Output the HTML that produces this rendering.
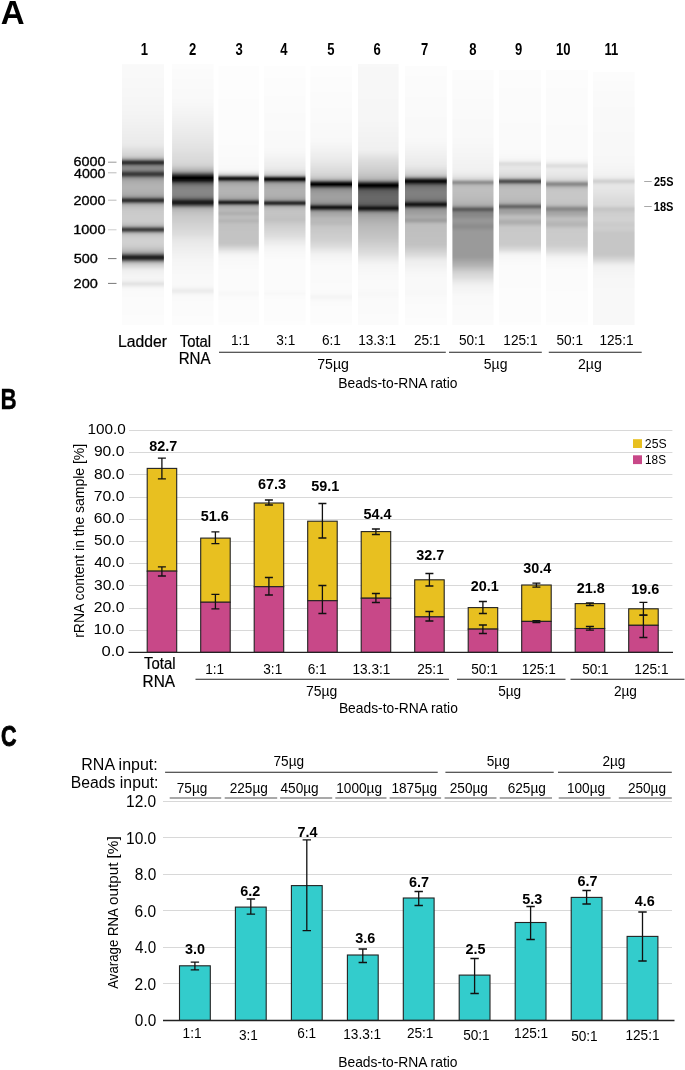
<!DOCTYPE html>
<html><head><meta charset="utf-8"><title>Figure</title>
<style>html,body{margin:0;padding:0;background:#fff}svg{display:block}text{font-family:"Liberation Sans",Arial,sans-serif}</style>
</head><body>
<svg width="685" height="1070" viewBox="0 0 685 1070">
<rect width="685" height="1070" fill="#fff"/>
<defs><filter id="hb" x="-5%" y="-1%" width="110%" height="102%"><feGaussianBlur stdDeviation="0.75 0"/></filter></defs>
<g filter="url(#hb)" shape-rendering="crispEdges">
<svg x="121.6" y="64" width="42.3" height="261" viewBox="0 0 1 261" preserveAspectRatio="none"><rect y="0" width="1" height="1" fill="#fafafa"/><rect y="1" width="1" height="13" fill="#f9f9f9"/><rect y="14" width="1" height="10" fill="#f8f8f8"/><rect y="24" width="1" height="9" fill="#f7f7f7"/><rect y="33" width="1" height="8" fill="#f6f6f6"/><rect y="41" width="1" height="6" fill="#f5f5f5"/><rect y="47" width="1" height="4" fill="#f4f4f4"/><rect y="51" width="1" height="4" fill="#f3f3f3"/><rect y="55" width="1" height="3" fill="#f2f2f2"/><rect y="58" width="1" height="3" fill="#f1f1f1"/><rect y="61" width="1" height="3" fill="#f0f0f0"/><rect y="64" width="1" height="3" fill="#efefef"/><rect y="67" width="1" height="3" fill="#eeeeee"/><rect y="70" width="1" height="3" fill="#ededed"/><rect y="73" width="1" height="3" fill="#ececec"/><rect y="76" width="1" height="3" fill="#ebebeb"/><rect y="79" width="1" height="1" fill="#eaeaea"/><rect y="80" width="1" height="1" fill="#e9e9e9"/><rect y="81" width="1" height="1" fill="#e8e8e8"/><rect y="82" width="1" height="1" fill="#e6e6e6"/><rect y="83" width="1" height="1" fill="#e4e4e4"/><rect y="84" width="1" height="1" fill="#e1e1e1"/><rect y="85" width="1" height="1" fill="#dfdfdf"/><rect y="86" width="1" height="1" fill="#dddddd"/><rect y="87" width="1" height="1" fill="#dbdbdb"/><rect y="88" width="1" height="1" fill="#d9d9d9"/><rect y="89" width="1" height="1" fill="#d6d6d6"/><rect y="90" width="1" height="1" fill="#d4d4d4"/><rect y="91" width="1" height="1" fill="#d0d0d0"/><rect y="92" width="1" height="1" fill="#c9c9c9"/><rect y="93" width="1" height="1" fill="#bebebe"/><rect y="94" width="1" height="1" fill="#ababab"/><rect y="95" width="1" height="1" fill="#8f8f8f"/><rect y="96" width="1" height="1" fill="#696969"/><rect y="97" width="1" height="1" fill="#434343"/><rect y="98" width="1" height="1" fill="#303030"/><rect y="99" width="1" height="1" fill="#393939"/><rect y="100" width="1" height="1" fill="#555555"/><rect y="101" width="1" height="1" fill="#717171"/><rect y="102" width="1" height="1" fill="#818181"/><rect y="103" width="1" height="1" fill="#888888"/><rect y="104" width="1" height="1" fill="#898989"/><rect y="105" width="1" height="1" fill="#848484"/><rect y="106" width="1" height="1" fill="#787878"/><rect y="107" width="1" height="1" fill="#656565"/><rect y="108" width="1" height="1" fill="#4d4d4d"/><rect y="109" width="1" height="1" fill="#3c3c3c"/><rect y="110" width="1" height="1" fill="#3a3a3a"/><rect y="111" width="1" height="1" fill="#4b4b4b"/><rect y="112" width="1" height="1" fill="#656565"/><rect y="113" width="1" height="1" fill="#808080"/><rect y="114" width="1" height="1" fill="#939393"/><rect y="115" width="1" height="1" fill="#9e9e9e"/><rect y="116" width="1" height="1" fill="#a5a5a5"/><rect y="117" width="1" height="1" fill="#aaaaaa"/><rect y="118" width="1" height="1" fill="#adadad"/><rect y="119" width="1" height="1" fill="#afafaf"/><rect y="120" width="1" height="1" fill="#b1b1b1"/><rect y="121" width="1" height="1" fill="#b2b2b2"/><rect y="122" width="1" height="3" fill="#b3b3b3"/><rect y="125" width="1" height="1" fill="#b2b2b2"/><rect y="126" width="1" height="1" fill="#b1b1b1"/><rect y="127" width="1" height="1" fill="#b0b0b0"/><rect y="128" width="1" height="1" fill="#aeaeae"/><rect y="129" width="1" height="1" fill="#acacac"/><rect y="130" width="1" height="1" fill="#a8a8a8"/><rect y="131" width="1" height="1" fill="#a1a1a1"/><rect y="132" width="1" height="1" fill="#959595"/><rect y="133" width="1" height="1" fill="#7e7e7e"/><rect y="134" width="1" height="1" fill="#5d5d5d"/><rect y="135" width="1" height="1" fill="#3d3d3d"/><rect y="136" width="1" height="1" fill="#323232"/><rect y="137" width="1" height="1" fill="#434343"/><rect y="138" width="1" height="1" fill="#676767"/><rect y="139" width="1" height="1" fill="#8b8b8b"/><rect y="140" width="1" height="1" fill="#a5a5a5"/><rect y="141" width="1" height="1" fill="#b3b3b3"/><rect y="142" width="1" height="1" fill="#bababa"/><rect y="143" width="1" height="1" fill="#c0c0c0"/><rect y="144" width="1" height="1" fill="#c3c3c3"/><rect y="145" width="1" height="1" fill="#c6c6c6"/><rect y="146" width="1" height="1" fill="#c8c8c8"/><rect y="147" width="1" height="2" fill="#cacaca"/><rect y="149" width="1" height="2" fill="#cbcbcb"/><rect y="151" width="1" height="5" fill="#cccccc"/><rect y="156" width="1" height="1" fill="#cbcbcb"/><rect y="157" width="1" height="1" fill="#cacaca"/><rect y="158" width="1" height="1" fill="#c7c7c7"/><rect y="159" width="1" height="1" fill="#c3c3c3"/><rect y="160" width="1" height="1" fill="#bdbdbd"/><rect y="161" width="1" height="1" fill="#b1b1b1"/><rect y="162" width="1" height="1" fill="#9b9b9b"/><rect y="163" width="1" height="1" fill="#797979"/><rect y="164" width="1" height="1" fill="#555555"/><rect y="165" width="1" height="1" fill="#414141"/><rect y="166" width="1" height="1" fill="#4b4b4b"/><rect y="167" width="1" height="1" fill="#6d6d6d"/><rect y="168" width="1" height="1" fill="#939393"/><rect y="169" width="1" height="1" fill="#afafaf"/><rect y="170" width="1" height="1" fill="#bebebe"/><rect y="171" width="1" height="1" fill="#c6c6c6"/><rect y="172" width="1" height="1" fill="#cacaca"/><rect y="173" width="1" height="1" fill="#cdcdcd"/><rect y="174" width="1" height="1" fill="#cfcfcf"/><rect y="175" width="1" height="1" fill="#d0d0d0"/><rect y="176" width="1" height="3" fill="#d1d1d1"/><rect y="179" width="1" height="1" fill="#d0d0d0"/><rect y="180" width="1" height="1" fill="#cfcfcf"/><rect y="181" width="1" height="1" fill="#cdcdcd"/><rect y="182" width="1" height="1" fill="#cbcbcb"/><rect y="183" width="1" height="1" fill="#c7c7c7"/><rect y="184" width="1" height="1" fill="#c3c3c3"/><rect y="185" width="1" height="1" fill="#bebebe"/><rect y="186" width="1" height="1" fill="#b7b7b7"/><rect y="187" width="1" height="1" fill="#adadad"/><rect y="188" width="1" height="1" fill="#9e9e9e"/><rect y="189" width="1" height="1" fill="#878787"/><rect y="190" width="1" height="1" fill="#686868"/><rect y="191" width="1" height="1" fill="#474747"/><rect y="192" width="1" height="1" fill="#2c2c2c"/><rect y="193" width="1" height="1" fill="#212121"/><rect y="194" width="1" height="1" fill="#2b2b2b"/><rect y="195" width="1" height="1" fill="#474747"/><rect y="196" width="1" height="1" fill="#6b6b6b"/><rect y="197" width="1" height="1" fill="#8e8e8e"/><rect y="198" width="1" height="1" fill="#aaaaaa"/><rect y="199" width="1" height="1" fill="#bebebe"/><rect y="200" width="1" height="1" fill="#cacaca"/><rect y="201" width="1" height="1" fill="#d3d3d3"/><rect y="202" width="1" height="1" fill="#d9d9d9"/><rect y="203" width="1" height="1" fill="#dfdfdf"/><rect y="204" width="1" height="1" fill="#e5e5e5"/><rect y="205" width="1" height="1" fill="#eaeaea"/><rect y="206" width="1" height="1" fill="#eeeeee"/><rect y="207" width="1" height="1" fill="#f0f0f0"/><rect y="208" width="1" height="1" fill="#f1f1f1"/><rect y="209" width="1" height="1" fill="#f2f2f2"/><rect y="210" width="1" height="1" fill="#f3f3f3"/><rect y="211" width="1" height="2" fill="#f4f4f4"/><rect y="213" width="1" height="1" fill="#f5f5f5"/><rect y="214" width="1" height="1" fill="#f4f4f4"/><rect y="215" width="1" height="1" fill="#f3f3f3"/><rect y="216" width="1" height="1" fill="#f1f1f1"/><rect y="217" width="1" height="1" fill="#ededed"/><rect y="218" width="1" height="1" fill="#e8e8e8"/><rect y="219" width="1" height="1" fill="#e4e4e4"/><rect y="220" width="1" height="1" fill="#e5e5e5"/><rect y="221" width="1" height="1" fill="#eaeaea"/><rect y="222" width="1" height="1" fill="#efefef"/><rect y="223" width="1" height="1" fill="#f4f4f4"/><rect y="224" width="1" height="1" fill="#f7f7f7"/><rect y="225" width="1" height="2" fill="#f9f9f9"/><rect y="227" width="1" height="6" fill="#fafafa"/><rect y="233" width="1" height="18" fill="#fbfbfb"/><rect y="251" width="1" height="10" fill="#fcfcfc"/></svg>
<svg x="172.1" y="64" width="41.5" height="261" viewBox="0 0 1 261" preserveAspectRatio="none"><rect y="0" width="1" height="5" fill="#fcfcfc"/><rect y="5" width="1" height="10" fill="#fbfbfb"/><rect y="15" width="1" height="10" fill="#fafafa"/><rect y="25" width="1" height="10" fill="#f9f9f9"/><rect y="35" width="1" height="4" fill="#f8f8f8"/><rect y="39" width="1" height="3" fill="#f7f7f7"/><rect y="42" width="1" height="2" fill="#f6f6f6"/><rect y="44" width="1" height="3" fill="#f5f5f5"/><rect y="47" width="1" height="3" fill="#f4f4f4"/><rect y="50" width="1" height="2" fill="#f3f3f3"/><rect y="52" width="1" height="2" fill="#f2f2f2"/><rect y="54" width="1" height="3" fill="#f1f1f1"/><rect y="57" width="1" height="2" fill="#f0f0f0"/><rect y="59" width="1" height="2" fill="#efefef"/><rect y="61" width="1" height="2" fill="#eeeeee"/><rect y="63" width="1" height="2" fill="#ededed"/><rect y="65" width="1" height="2" fill="#ececec"/><rect y="67" width="1" height="2" fill="#ebebeb"/><rect y="69" width="1" height="2" fill="#eaeaea"/><rect y="71" width="1" height="2" fill="#e9e9e9"/><rect y="73" width="1" height="2" fill="#e8e8e8"/><rect y="75" width="1" height="2" fill="#e7e7e7"/><rect y="77" width="1" height="2" fill="#e6e6e6"/><rect y="79" width="1" height="1" fill="#e5e5e5"/><rect y="80" width="1" height="2" fill="#e4e4e4"/><rect y="82" width="1" height="2" fill="#e3e3e3"/><rect y="84" width="1" height="1" fill="#e2e2e2"/><rect y="85" width="1" height="2" fill="#e1e1e1"/><rect y="87" width="1" height="1" fill="#e0e0e0"/><rect y="88" width="1" height="1" fill="#dfdfdf"/><rect y="89" width="1" height="1" fill="#dedede"/><rect y="90" width="1" height="2" fill="#dddddd"/><rect y="92" width="1" height="1" fill="#dcdcdc"/><rect y="93" width="1" height="2" fill="#dbdbdb"/><rect y="95" width="1" height="1" fill="#dadada"/><rect y="96" width="1" height="1" fill="#d9d9d9"/><rect y="97" width="1" height="1" fill="#d8d8d8"/><rect y="98" width="1" height="1" fill="#d7d7d7"/><rect y="99" width="1" height="1" fill="#d5d5d5"/><rect y="100" width="1" height="1" fill="#d3d3d3"/><rect y="101" width="1" height="1" fill="#d0d0d0"/><rect y="102" width="1" height="1" fill="#cbcbcb"/><rect y="103" width="1" height="1" fill="#c5c5c5"/><rect y="104" width="1" height="1" fill="#bfbfbf"/><rect y="105" width="1" height="1" fill="#b7b7b7"/><rect y="106" width="1" height="1" fill="#adadad"/><rect y="107" width="1" height="1" fill="#9d9d9d"/><rect y="108" width="1" height="1" fill="#868686"/><rect y="109" width="1" height="1" fill="#6a6a6a"/><rect y="110" width="1" height="1" fill="#4b4b4b"/><rect y="111" width="1" height="1" fill="#2d2d2d"/><rect y="112" width="1" height="1" fill="#151515"/><rect y="113" width="1" height="1" fill="#050505"/><rect y="114" width="1" height="1" fill="#000000"/><rect y="115" width="1" height="1" fill="#070707"/><rect y="116" width="1" height="1" fill="#181818"/><rect y="117" width="1" height="1" fill="#2f2f2f"/><rect y="118" width="1" height="1" fill="#464646"/><rect y="119" width="1" height="1" fill="#5b5b5b"/><rect y="120" width="1" height="1" fill="#6a6a6a"/><rect y="121" width="1" height="1" fill="#757575"/><rect y="122" width="1" height="1" fill="#7c7c7c"/><rect y="123" width="1" height="1" fill="#818181"/><rect y="124" width="1" height="1" fill="#838383"/><rect y="125" width="1" height="1" fill="#858585"/><rect y="126" width="1" height="3" fill="#878787"/><rect y="129" width="1" height="1" fill="#868686"/><rect y="130" width="1" height="1" fill="#858585"/><rect y="131" width="1" height="1" fill="#828282"/><rect y="132" width="1" height="1" fill="#7c7c7c"/><rect y="133" width="1" height="1" fill="#737373"/><rect y="134" width="1" height="1" fill="#646464"/><rect y="135" width="1" height="1" fill="#4f4f4f"/><rect y="136" width="1" height="1" fill="#363636"/><rect y="137" width="1" height="1" fill="#212121"/><rect y="138" width="1" height="1" fill="#1a1a1a"/><rect y="139" width="1" height="1" fill="#242424"/><rect y="140" width="1" height="1" fill="#3c3c3c"/><rect y="141" width="1" height="1" fill="#5b5b5b"/><rect y="142" width="1" height="1" fill="#7b7b7b"/><rect y="143" width="1" height="1" fill="#979797"/><rect y="144" width="1" height="1" fill="#aaaaaa"/><rect y="145" width="1" height="1" fill="#b4b4b4"/><rect y="146" width="1" height="1" fill="#bababa"/><rect y="147" width="1" height="1" fill="#bdbdbd"/><rect y="148" width="1" height="1" fill="#c1c1c1"/><rect y="149" width="1" height="1" fill="#c3c3c3"/><rect y="150" width="1" height="1" fill="#c5c5c5"/><rect y="151" width="1" height="1" fill="#c7c7c7"/><rect y="152" width="1" height="1" fill="#c9c9c9"/><rect y="153" width="1" height="1" fill="#cacaca"/><rect y="154" width="1" height="1" fill="#cbcbcb"/><rect y="155" width="1" height="1" fill="#cccccc"/><rect y="156" width="1" height="1" fill="#cdcdcd"/><rect y="157" width="1" height="1" fill="#cecece"/><rect y="158" width="1" height="1" fill="#cfcfcf"/><rect y="159" width="1" height="1" fill="#d1d1d1"/><rect y="160" width="1" height="1" fill="#d2d2d2"/><rect y="161" width="1" height="1" fill="#d3d3d3"/><rect y="162" width="1" height="1" fill="#d4d4d4"/><rect y="163" width="1" height="1" fill="#d5d5d5"/><rect y="164" width="1" height="1" fill="#d6d6d6"/><rect y="165" width="1" height="1" fill="#d7d7d7"/><rect y="166" width="1" height="1" fill="#d9d9d9"/><rect y="167" width="1" height="1" fill="#dadada"/><rect y="168" width="1" height="1" fill="#dbdbdb"/><rect y="169" width="1" height="1" fill="#dcdcdc"/><rect y="170" width="1" height="1" fill="#dddddd"/><rect y="171" width="1" height="1" fill="#dfdfdf"/><rect y="172" width="1" height="1" fill="#e1e1e1"/><rect y="173" width="1" height="1" fill="#e3e3e3"/><rect y="174" width="1" height="1" fill="#e4e4e4"/><rect y="175" width="1" height="1" fill="#e6e6e6"/><rect y="176" width="1" height="1" fill="#e7e7e7"/><rect y="177" width="1" height="1" fill="#e8e8e8"/><rect y="178" width="1" height="1" fill="#e9e9e9"/><rect y="179" width="1" height="1" fill="#eaeaea"/><rect y="180" width="1" height="2" fill="#ebebeb"/><rect y="182" width="1" height="1" fill="#ececec"/><rect y="183" width="1" height="1" fill="#ededed"/><rect y="184" width="1" height="2" fill="#eeeeee"/><rect y="186" width="1" height="1" fill="#efefef"/><rect y="187" width="1" height="2" fill="#f0f0f0"/><rect y="189" width="1" height="1" fill="#f1f1f1"/><rect y="190" width="1" height="2" fill="#f2f2f2"/><rect y="192" width="1" height="2" fill="#f3f3f3"/><rect y="194" width="1" height="1" fill="#f4f4f4"/><rect y="195" width="1" height="3" fill="#f5f5f5"/><rect y="198" width="1" height="4" fill="#f6f6f6"/><rect y="202" width="1" height="4" fill="#f7f7f7"/><rect y="206" width="1" height="4" fill="#f8f8f8"/><rect y="210" width="1" height="11" fill="#f9f9f9"/><rect y="221" width="1" height="1" fill="#f8f8f8"/><rect y="222" width="1" height="1" fill="#f7f7f7"/><rect y="223" width="1" height="1" fill="#f5f5f5"/><rect y="224" width="1" height="1" fill="#f2f2f2"/><rect y="225" width="1" height="1" fill="#efefef"/><rect y="226" width="1" height="1" fill="#ececec"/><rect y="227" width="1" height="1" fill="#ededed"/><rect y="228" width="1" height="1" fill="#efefef"/><rect y="229" width="1" height="1" fill="#f3f3f3"/><rect y="230" width="1" height="1" fill="#f6f6f6"/><rect y="231" width="1" height="1" fill="#f8f8f8"/><rect y="232" width="1" height="1" fill="#f9f9f9"/><rect y="233" width="1" height="4" fill="#fafafa"/><rect y="237" width="1" height="15" fill="#fbfbfb"/><rect y="252" width="1" height="9" fill="#fcfcfc"/></svg>
<svg x="218.4" y="66" width="40.4" height="259" viewBox="0 0 1 259" preserveAspectRatio="none"><rect y="0" width="1" height="33" fill="#fdfdfd"/><rect y="33" width="1" height="46" fill="#fcfcfc"/><rect y="79" width="1" height="12" fill="#fbfbfb"/><rect y="91" width="1" height="8" fill="#fafafa"/><rect y="99" width="1" height="3" fill="#f9f9f9"/><rect y="102" width="1" height="1" fill="#f8f8f8"/><rect y="103" width="1" height="1" fill="#f7f7f7"/><rect y="104" width="1" height="1" fill="#f5f5f5"/><rect y="105" width="1" height="1" fill="#f0f0f0"/><rect y="106" width="1" height="1" fill="#e9e9e9"/><rect y="107" width="1" height="1" fill="#dddddd"/><rect y="108" width="1" height="1" fill="#cacaca"/><rect y="109" width="1" height="1" fill="#a5a5a5"/><rect y="110" width="1" height="1" fill="#6d6d6d"/><rect y="111" width="1" height="1" fill="#323232"/><rect y="112" width="1" height="1" fill="#151515"/><rect y="113" width="1" height="1" fill="#252525"/><rect y="114" width="1" height="1" fill="#515151"/><rect y="115" width="1" height="1" fill="#7b7b7b"/><rect y="116" width="1" height="1" fill="#969696"/><rect y="117" width="1" height="1" fill="#a3a3a3"/><rect y="118" width="1" height="1" fill="#a9a9a9"/><rect y="119" width="1" height="1" fill="#adadad"/><rect y="120" width="1" height="1" fill="#b0b0b0"/><rect y="121" width="1" height="1" fill="#b2b2b2"/><rect y="122" width="1" height="2" fill="#b3b3b3"/><rect y="124" width="1" height="2" fill="#b4b4b4"/><rect y="126" width="1" height="2" fill="#b3b3b3"/><rect y="128" width="1" height="1" fill="#b1b1b1"/><rect y="129" width="1" height="1" fill="#afafaf"/><rect y="130" width="1" height="1" fill="#acacac"/><rect y="131" width="1" height="1" fill="#a7a7a7"/><rect y="132" width="1" height="1" fill="#9d9d9d"/><rect y="133" width="1" height="1" fill="#868686"/><rect y="134" width="1" height="1" fill="#606060"/><rect y="135" width="1" height="1" fill="#343434"/><rect y="136" width="1" height="1" fill="#212121"/><rect y="137" width="1" height="1" fill="#373737"/><rect y="138" width="1" height="1" fill="#666666"/><rect y="139" width="1" height="1" fill="#8e8e8e"/><rect y="140" width="1" height="1" fill="#a5a5a5"/><rect y="141" width="1" height="1" fill="#afafaf"/><rect y="142" width="1" height="1" fill="#b4b4b4"/><rect y="143" width="1" height="2" fill="#b7b7b7"/><rect y="145" width="1" height="1" fill="#b5b5b5"/><rect y="146" width="1" height="1" fill="#b1b1b1"/><rect y="147" width="1" height="1" fill="#b0b0b0"/><rect y="148" width="1" height="1" fill="#b2b2b2"/><rect y="149" width="1" height="1" fill="#b7b7b7"/><rect y="150" width="1" height="1" fill="#bbbbbb"/><rect y="151" width="1" height="1" fill="#bcbcbc"/><rect y="152" width="1" height="1" fill="#bbbbbb"/><rect y="153" width="1" height="1" fill="#b8b8b8"/><rect y="154" width="1" height="2" fill="#b6b6b6"/><rect y="156" width="1" height="1" fill="#bababa"/><rect y="157" width="1" height="1" fill="#bdbdbd"/><rect y="158" width="1" height="1" fill="#c0c0c0"/><rect y="159" width="1" height="2" fill="#c1c1c1"/><rect y="161" width="1" height="4" fill="#c2c2c2"/><rect y="165" width="1" height="9" fill="#c3c3c3"/><rect y="174" width="1" height="3" fill="#c4c4c4"/><rect y="177" width="1" height="1" fill="#c5c5c5"/><rect y="178" width="1" height="1" fill="#c8c8c8"/><rect y="179" width="1" height="1" fill="#cbcbcb"/><rect y="180" width="1" height="1" fill="#d0d0d0"/><rect y="181" width="1" height="1" fill="#d5d5d5"/><rect y="182" width="1" height="1" fill="#dadada"/><rect y="183" width="1" height="1" fill="#dedede"/><rect y="184" width="1" height="1" fill="#e4e4e4"/><rect y="185" width="1" height="1" fill="#e9e9e9"/><rect y="186" width="1" height="1" fill="#ececec"/><rect y="187" width="1" height="1" fill="#f0f0f0"/><rect y="188" width="1" height="1" fill="#f3f3f3"/><rect y="189" width="1" height="1" fill="#f5f5f5"/><rect y="190" width="1" height="1" fill="#f6f6f6"/><rect y="191" width="1" height="1" fill="#f7f7f7"/><rect y="192" width="1" height="3" fill="#f8f8f8"/><rect y="195" width="1" height="4" fill="#f9f9f9"/><rect y="199" width="1" height="4" fill="#fafafa"/><rect y="203" width="1" height="21" fill="#fbfbfb"/><rect y="224" width="1" height="1" fill="#fafafa"/><rect y="225" width="1" height="1" fill="#f9f9f9"/><rect y="226" width="1" height="3" fill="#f8f8f8"/><rect y="229" width="1" height="1" fill="#f9f9f9"/><rect y="230" width="1" height="1" fill="#fafafa"/><rect y="231" width="1" height="3" fill="#fbfbfb"/><rect y="234" width="1" height="22" fill="#fcfcfc"/><rect y="256" width="1" height="3" fill="#fdfdfd"/></svg>
<svg x="264.2" y="66" width="41.3" height="259" viewBox="0 0 1 259" preserveAspectRatio="none"><rect y="0" width="1" height="12" fill="#fdfdfd"/><rect y="12" width="1" height="18" fill="#fcfcfc"/><rect y="30" width="1" height="17" fill="#fbfbfb"/><rect y="47" width="1" height="18" fill="#fafafa"/><rect y="65" width="1" height="17" fill="#f9f9f9"/><rect y="82" width="1" height="3" fill="#f8f8f8"/><rect y="85" width="1" height="2" fill="#f7f7f7"/><rect y="87" width="1" height="1" fill="#f6f6f6"/><rect y="88" width="1" height="2" fill="#f5f5f5"/><rect y="90" width="1" height="1" fill="#f4f4f4"/><rect y="91" width="1" height="1" fill="#f3f3f3"/><rect y="92" width="1" height="1" fill="#f2f2f2"/><rect y="93" width="1" height="2" fill="#f1f1f1"/><rect y="95" width="1" height="1" fill="#f0f0f0"/><rect y="96" width="1" height="1" fill="#efefef"/><rect y="97" width="1" height="2" fill="#eeeeee"/><rect y="99" width="1" height="1" fill="#ededed"/><rect y="100" width="1" height="1" fill="#ececec"/><rect y="101" width="1" height="1" fill="#eaeaea"/><rect y="102" width="1" height="1" fill="#e9e9e9"/><rect y="103" width="1" height="1" fill="#e6e6e6"/><rect y="104" width="1" height="1" fill="#e3e3e3"/><rect y="105" width="1" height="1" fill="#dedede"/><rect y="106" width="1" height="1" fill="#dadada"/><rect y="107" width="1" height="1" fill="#d3d3d3"/><rect y="108" width="1" height="1" fill="#c7c7c7"/><rect y="109" width="1" height="1" fill="#adadad"/><rect y="110" width="1" height="1" fill="#808080"/><rect y="111" width="1" height="1" fill="#464646"/><rect y="112" width="1" height="1" fill="#191919"/><rect y="113" width="1" height="1" fill="#111111"/><rect y="114" width="1" height="1" fill="#2f2f2f"/><rect y="115" width="1" height="1" fill="#5b5b5b"/><rect y="116" width="1" height="1" fill="#808080"/><rect y="117" width="1" height="1" fill="#969696"/><rect y="118" width="1" height="1" fill="#a2a2a2"/><rect y="119" width="1" height="1" fill="#a8a8a8"/><rect y="120" width="1" height="1" fill="#ababab"/><rect y="121" width="1" height="1" fill="#aeaeae"/><rect y="122" width="1" height="1" fill="#afafaf"/><rect y="123" width="1" height="5" fill="#b1b1b1"/><rect y="128" width="1" height="1" fill="#b0b0b0"/><rect y="129" width="1" height="1" fill="#afafaf"/><rect y="130" width="1" height="1" fill="#adadad"/><rect y="131" width="1" height="1" fill="#a9a9a9"/><rect y="132" width="1" height="1" fill="#a4a4a4"/><rect y="133" width="1" height="1" fill="#989898"/><rect y="134" width="1" height="1" fill="#7e7e7e"/><rect y="135" width="1" height="1" fill="#575757"/><rect y="136" width="1" height="1" fill="#323232"/><rect y="137" width="1" height="1" fill="#2d2d2d"/><rect y="138" width="1" height="1" fill="#4f4f4f"/><rect y="139" width="1" height="1" fill="#7f7f7f"/><rect y="140" width="1" height="1" fill="#a2a2a2"/><rect y="141" width="1" height="1" fill="#b3b3b3"/><rect y="142" width="1" height="1" fill="#bbbbbb"/><rect y="143" width="1" height="1" fill="#bfbfbf"/><rect y="144" width="1" height="1" fill="#c1c1c1"/><rect y="145" width="1" height="2" fill="#c3c3c3"/><rect y="147" width="1" height="1" fill="#c4c4c4"/><rect y="148" width="1" height="2" fill="#c3c3c3"/><rect y="150" width="1" height="2" fill="#c2c2c2"/><rect y="152" width="1" height="2" fill="#c1c1c1"/><rect y="154" width="1" height="1" fill="#c2c2c2"/><rect y="155" width="1" height="1" fill="#c5c5c5"/><rect y="156" width="1" height="1" fill="#c7c7c7"/><rect y="157" width="1" height="1" fill="#cacaca"/><rect y="158" width="1" height="1" fill="#cccccc"/><rect y="159" width="1" height="1" fill="#cecece"/><rect y="160" width="1" height="1" fill="#d0d0d0"/><rect y="161" width="1" height="1" fill="#d1d1d1"/><rect y="162" width="1" height="1" fill="#d3d3d3"/><rect y="163" width="1" height="1" fill="#d4d4d4"/><rect y="164" width="1" height="1" fill="#d5d5d5"/><rect y="165" width="1" height="1" fill="#d7d7d7"/><rect y="166" width="1" height="1" fill="#d8d8d8"/><rect y="167" width="1" height="1" fill="#dadada"/><rect y="168" width="1" height="1" fill="#dbdbdb"/><rect y="169" width="1" height="1" fill="#dddddd"/><rect y="170" width="1" height="1" fill="#dedede"/><rect y="171" width="1" height="1" fill="#e1e1e1"/><rect y="172" width="1" height="1" fill="#e3e3e3"/><rect y="173" width="1" height="1" fill="#e5e5e5"/><rect y="174" width="1" height="1" fill="#e8e8e8"/><rect y="175" width="1" height="1" fill="#eaeaea"/><rect y="176" width="1" height="1" fill="#ececec"/><rect y="177" width="1" height="1" fill="#ededed"/><rect y="178" width="1" height="1" fill="#efefef"/><rect y="179" width="1" height="1" fill="#f1f1f1"/><rect y="180" width="1" height="1" fill="#f3f3f3"/><rect y="181" width="1" height="1" fill="#f4f4f4"/><rect y="182" width="1" height="1" fill="#f5f5f5"/><rect y="183" width="1" height="2" fill="#f6f6f6"/><rect y="185" width="1" height="1" fill="#f7f7f7"/><rect y="186" width="1" height="2" fill="#f8f8f8"/><rect y="188" width="1" height="3" fill="#f9f9f9"/><rect y="191" width="1" height="2" fill="#fafafa"/><rect y="193" width="1" height="31" fill="#fbfbfb"/><rect y="224" width="1" height="2" fill="#fafafa"/><rect y="226" width="1" height="1" fill="#f9f9f9"/><rect y="227" width="1" height="1" fill="#f8f8f8"/><rect y="228" width="1" height="1" fill="#f9f9f9"/><rect y="229" width="1" height="1" fill="#fafafa"/><rect y="230" width="1" height="3" fill="#fbfbfb"/><rect y="233" width="1" height="22" fill="#fcfcfc"/><rect y="255" width="1" height="4" fill="#fdfdfd"/></svg>
<svg x="310.4" y="66" width="41.6" height="259" viewBox="0 0 1 259" preserveAspectRatio="none"><rect y="0" width="1" height="11" fill="#fdfdfd"/><rect y="11" width="1" height="15" fill="#fcfcfc"/><rect y="26" width="1" height="16" fill="#fbfbfb"/><rect y="42" width="1" height="15" fill="#fafafa"/><rect y="57" width="1" height="15" fill="#f9f9f9"/><rect y="72" width="1" height="4" fill="#f8f8f8"/><rect y="76" width="1" height="1" fill="#f7f7f7"/><rect y="77" width="1" height="2" fill="#f6f6f6"/><rect y="79" width="1" height="1" fill="#f5f5f5"/><rect y="80" width="1" height="2" fill="#f4f4f4"/><rect y="82" width="1" height="1" fill="#f3f3f3"/><rect y="83" width="1" height="2" fill="#f2f2f2"/><rect y="85" width="1" height="1" fill="#f1f1f1"/><rect y="86" width="1" height="1" fill="#f0f0f0"/><rect y="87" width="1" height="1" fill="#efefef"/><rect y="88" width="1" height="2" fill="#eeeeee"/><rect y="90" width="1" height="1" fill="#ededed"/><rect y="91" width="1" height="1" fill="#ececec"/><rect y="92" width="1" height="1" fill="#ebebeb"/><rect y="93" width="1" height="1" fill="#eaeaea"/><rect y="94" width="1" height="1" fill="#e9e9e9"/><rect y="95" width="1" height="1" fill="#e8e8e8"/><rect y="96" width="1" height="1" fill="#e7e7e7"/><rect y="97" width="1" height="1" fill="#e5e5e5"/><rect y="98" width="1" height="1" fill="#e4e4e4"/><rect y="99" width="1" height="1" fill="#e3e3e3"/><rect y="100" width="1" height="1" fill="#e1e1e1"/><rect y="101" width="1" height="1" fill="#e0e0e0"/><rect y="102" width="1" height="1" fill="#dedede"/><rect y="103" width="1" height="1" fill="#dddddd"/><rect y="104" width="1" height="1" fill="#dcdcdc"/><rect y="105" width="1" height="1" fill="#dadada"/><rect y="106" width="1" height="1" fill="#d9d9d9"/><rect y="107" width="1" height="1" fill="#d6d6d6"/><rect y="108" width="1" height="1" fill="#d4d4d4"/><rect y="109" width="1" height="1" fill="#d1d1d1"/><rect y="110" width="1" height="1" fill="#cccccc"/><rect y="111" width="1" height="1" fill="#c6c6c6"/><rect y="112" width="1" height="1" fill="#bcbcbc"/><rect y="113" width="1" height="1" fill="#aaaaaa"/><rect y="114" width="1" height="1" fill="#8a8a8a"/><rect y="115" width="1" height="1" fill="#5d5d5d"/><rect y="116" width="1" height="1" fill="#2e2e2e"/><rect y="117" width="1" height="1" fill="#0d0d0d"/><rect y="118" width="1" height="1" fill="#060606"/><rect y="119" width="1" height="1" fill="#1b1b1b"/><rect y="120" width="1" height="1" fill="#3f3f3f"/><rect y="121" width="1" height="1" fill="#616161"/><rect y="122" width="1" height="1" fill="#7a7a7a"/><rect y="123" width="1" height="1" fill="#8a8a8a"/><rect y="124" width="1" height="1" fill="#929292"/><rect y="125" width="1" height="1" fill="#979797"/><rect y="126" width="1" height="1" fill="#9a9a9a"/><rect y="127" width="1" height="1" fill="#9d9d9d"/><rect y="128" width="1" height="1" fill="#9e9e9e"/><rect y="129" width="1" height="1" fill="#9f9f9f"/><rect y="130" width="1" height="2" fill="#a0a0a0"/><rect y="132" width="1" height="1" fill="#9f9f9f"/><rect y="133" width="1" height="1" fill="#9e9e9e"/><rect y="134" width="1" height="1" fill="#9b9b9b"/><rect y="135" width="1" height="1" fill="#989898"/><rect y="136" width="1" height="1" fill="#919191"/><rect y="137" width="1" height="1" fill="#858585"/><rect y="138" width="1" height="1" fill="#6e6e6e"/><rect y="139" width="1" height="1" fill="#4b4b4b"/><rect y="140" width="1" height="1" fill="#282828"/><rect y="141" width="1" height="1" fill="#191919"/><rect y="142" width="1" height="1" fill="#292929"/><rect y="143" width="1" height="1" fill="#4e4e4e"/><rect y="144" width="1" height="1" fill="#757575"/><rect y="145" width="1" height="1" fill="#8f8f8f"/><rect y="146" width="1" height="1" fill="#9e9e9e"/><rect y="147" width="1" height="1" fill="#a5a5a5"/><rect y="148" width="1" height="1" fill="#a9a9a9"/><rect y="149" width="1" height="1" fill="#acacac"/><rect y="150" width="1" height="1" fill="#b0b0b0"/><rect y="151" width="1" height="1" fill="#b4b4b4"/><rect y="152" width="1" height="1" fill="#b7b7b7"/><rect y="153" width="1" height="1" fill="#b8b8b8"/><rect y="154" width="1" height="3" fill="#b9b9b9"/><rect y="157" width="1" height="1" fill="#bbbbbb"/><rect y="158" width="1" height="1" fill="#bdbdbd"/><rect y="159" width="1" height="1" fill="#c1c1c1"/><rect y="160" width="1" height="1" fill="#c4c4c4"/><rect y="161" width="1" height="1" fill="#c6c6c6"/><rect y="162" width="1" height="1" fill="#c7c7c7"/><rect y="163" width="1" height="1" fill="#c8c8c8"/><rect y="164" width="1" height="2" fill="#c9c9c9"/><rect y="166" width="1" height="1" fill="#cacaca"/><rect y="167" width="1" height="1" fill="#cbcbcb"/><rect y="168" width="1" height="1" fill="#cccccc"/><rect y="169" width="1" height="2" fill="#cdcdcd"/><rect y="171" width="1" height="1" fill="#cecece"/><rect y="172" width="1" height="1" fill="#cfcfcf"/><rect y="173" width="1" height="1" fill="#d0d0d0"/><rect y="174" width="1" height="1" fill="#d1d1d1"/><rect y="175" width="1" height="1" fill="#d3d3d3"/><rect y="176" width="1" height="1" fill="#d5d5d5"/><rect y="177" width="1" height="1" fill="#d7d7d7"/><rect y="178" width="1" height="1" fill="#d9d9d9"/><rect y="179" width="1" height="1" fill="#dbdbdb"/><rect y="180" width="1" height="1" fill="#dddddd"/><rect y="181" width="1" height="1" fill="#e0e0e0"/><rect y="182" width="1" height="1" fill="#e3e3e3"/><rect y="183" width="1" height="1" fill="#e6e6e6"/><rect y="184" width="1" height="1" fill="#e8e8e8"/><rect y="185" width="1" height="1" fill="#ebebeb"/><rect y="186" width="1" height="1" fill="#ededed"/><rect y="187" width="1" height="1" fill="#f0f0f0"/><rect y="188" width="1" height="1" fill="#f2f2f2"/><rect y="189" width="1" height="1" fill="#f3f3f3"/><rect y="190" width="1" height="1" fill="#f4f4f4"/><rect y="191" width="1" height="1" fill="#f5f5f5"/><rect y="192" width="1" height="2" fill="#f6f6f6"/><rect y="194" width="1" height="1" fill="#f7f7f7"/><rect y="195" width="1" height="2" fill="#f8f8f8"/><rect y="197" width="1" height="2" fill="#f9f9f9"/><rect y="199" width="1" height="18" fill="#fafafa"/><rect y="217" width="1" height="7" fill="#fbfbfb"/><rect y="224" width="1" height="3" fill="#fafafa"/><rect y="227" width="1" height="1" fill="#f9f9f9"/><rect y="228" width="1" height="1" fill="#f8f8f8"/><rect y="229" width="1" height="1" fill="#f6f6f6"/><rect y="230" width="1" height="2" fill="#f5f5f5"/><rect y="232" width="1" height="1" fill="#f6f6f6"/><rect y="233" width="1" height="1" fill="#f8f8f8"/><rect y="234" width="1" height="1" fill="#f9f9f9"/><rect y="235" width="1" height="1" fill="#fafafa"/><rect y="236" width="1" height="4" fill="#fbfbfb"/><rect y="240" width="1" height="17" fill="#fcfcfc"/><rect y="257" width="1" height="2" fill="#fdfdfd"/></svg>
<svg x="358.1" y="64" width="40.5" height="261" viewBox="0 0 1 261" preserveAspectRatio="none"><rect y="0" width="1" height="3" fill="#f8f8f8"/><rect y="3" width="1" height="32" fill="#f7f7f7"/><rect y="35" width="1" height="23" fill="#f6f6f6"/><rect y="58" width="1" height="5" fill="#f5f5f5"/><rect y="63" width="1" height="5" fill="#f4f4f4"/><rect y="68" width="1" height="5" fill="#f3f3f3"/><rect y="73" width="1" height="5" fill="#f2f2f2"/><rect y="78" width="1" height="5" fill="#f1f1f1"/><rect y="83" width="1" height="3" fill="#f0f0f0"/><rect y="86" width="1" height="1" fill="#efefef"/><rect y="87" width="1" height="1" fill="#ededed"/><rect y="88" width="1" height="1" fill="#ececec"/><rect y="89" width="1" height="1" fill="#eaeaea"/><rect y="90" width="1" height="1" fill="#e8e8e8"/><rect y="91" width="1" height="1" fill="#e6e6e6"/><rect y="92" width="1" height="1" fill="#e4e4e4"/><rect y="93" width="1" height="1" fill="#e2e2e2"/><rect y="94" width="1" height="1" fill="#e0e0e0"/><rect y="95" width="1" height="1" fill="#dedede"/><rect y="96" width="1" height="1" fill="#dcdcdc"/><rect y="97" width="1" height="1" fill="#dbdbdb"/><rect y="98" width="1" height="1" fill="#d9d9d9"/><rect y="99" width="1" height="1" fill="#d8d8d8"/><rect y="100" width="1" height="1" fill="#d7d7d7"/><rect y="101" width="1" height="1" fill="#d5d5d5"/><rect y="102" width="1" height="1" fill="#d4d4d4"/><rect y="103" width="1" height="1" fill="#d2d2d2"/><rect y="104" width="1" height="1" fill="#d1d1d1"/><rect y="105" width="1" height="1" fill="#cfcfcf"/><rect y="106" width="1" height="1" fill="#cecece"/><rect y="107" width="1" height="1" fill="#cccccc"/><rect y="108" width="1" height="1" fill="#cacaca"/><rect y="109" width="1" height="1" fill="#c8c8c8"/><rect y="110" width="1" height="1" fill="#c5c5c5"/><rect y="111" width="1" height="1" fill="#c3c3c3"/><rect y="112" width="1" height="1" fill="#bfbfbf"/><rect y="113" width="1" height="1" fill="#bbbbbb"/><rect y="114" width="1" height="1" fill="#b5b5b5"/><rect y="115" width="1" height="1" fill="#a9a9a9"/><rect y="116" width="1" height="1" fill="#949494"/><rect y="117" width="1" height="1" fill="#757575"/><rect y="118" width="1" height="1" fill="#4f4f4f"/><rect y="119" width="1" height="1" fill="#292929"/><rect y="120" width="1" height="1" fill="#0f0f0f"/><rect y="121" width="1" height="1" fill="#060606"/><rect y="122" width="1" height="1" fill="#0f0f0f"/><rect y="123" width="1" height="1" fill="#232323"/><rect y="124" width="1" height="1" fill="#383838"/><rect y="125" width="1" height="1" fill="#4a4a4a"/><rect y="126" width="1" height="1" fill="#555555"/><rect y="127" width="1" height="1" fill="#5d5d5d"/><rect y="128" width="1" height="1" fill="#616161"/><rect y="129" width="1" height="1" fill="#636363"/><rect y="130" width="1" height="1" fill="#656565"/><rect y="131" width="1" height="1" fill="#666666"/><rect y="132" width="1" height="1" fill="#676767"/><rect y="133" width="1" height="2" fill="#686868"/><rect y="135" width="1" height="1" fill="#676767"/><rect y="136" width="1" height="1" fill="#666666"/><rect y="137" width="1" height="1" fill="#656565"/><rect y="138" width="1" height="1" fill="#626262"/><rect y="139" width="1" height="1" fill="#5e5e5e"/><rect y="140" width="1" height="1" fill="#565656"/><rect y="141" width="1" height="1" fill="#474747"/><rect y="142" width="1" height="1" fill="#323232"/><rect y="143" width="1" height="1" fill="#1e1e1e"/><rect y="144" width="1" height="1" fill="#191919"/><rect y="145" width="1" height="1" fill="#292929"/><rect y="146" width="1" height="1" fill="#494949"/><rect y="147" width="1" height="1" fill="#6b6b6b"/><rect y="148" width="1" height="1" fill="#858585"/><rect y="149" width="1" height="1" fill="#939393"/><rect y="150" width="1" height="1" fill="#9c9c9c"/><rect y="151" width="1" height="1" fill="#a1a1a1"/><rect y="152" width="1" height="1" fill="#a4a4a4"/><rect y="153" width="1" height="1" fill="#a8a8a8"/><rect y="154" width="1" height="1" fill="#aaaaaa"/><rect y="155" width="1" height="1" fill="#adadad"/><rect y="156" width="1" height="1" fill="#afafaf"/><rect y="157" width="1" height="1" fill="#b1b1b1"/><rect y="158" width="1" height="1" fill="#b3b3b3"/><rect y="159" width="1" height="1" fill="#b5b5b5"/><rect y="160" width="1" height="1" fill="#b7b7b7"/><rect y="161" width="1" height="1" fill="#b8b8b8"/><rect y="162" width="1" height="1" fill="#bababa"/><rect y="163" width="1" height="1" fill="#bbbbbb"/><rect y="164" width="1" height="1" fill="#bcbcbc"/><rect y="165" width="1" height="1" fill="#bdbdbd"/><rect y="166" width="1" height="1" fill="#bebebe"/><rect y="167" width="1" height="1" fill="#bfbfbf"/><rect y="168" width="1" height="1" fill="#c0c0c0"/><rect y="169" width="1" height="1" fill="#c1c1c1"/><rect y="170" width="1" height="1" fill="#c2c2c2"/><rect y="171" width="1" height="1" fill="#c3c3c3"/><rect y="172" width="1" height="1" fill="#c4c4c4"/><rect y="173" width="1" height="1" fill="#c5c5c5"/><rect y="174" width="1" height="1" fill="#c6c6c6"/><rect y="175" width="1" height="1" fill="#c8c8c8"/><rect y="176" width="1" height="1" fill="#c9c9c9"/><rect y="177" width="1" height="1" fill="#cacaca"/><rect y="178" width="1" height="1" fill="#cccccc"/><rect y="179" width="1" height="1" fill="#cecece"/><rect y="180" width="1" height="1" fill="#cfcfcf"/><rect y="181" width="1" height="1" fill="#d1d1d1"/><rect y="182" width="1" height="1" fill="#d2d2d2"/><rect y="183" width="1" height="1" fill="#d4d4d4"/><rect y="184" width="1" height="1" fill="#d6d6d6"/><rect y="185" width="1" height="1" fill="#d7d7d7"/><rect y="186" width="1" height="1" fill="#d9d9d9"/><rect y="187" width="1" height="1" fill="#dadada"/><rect y="188" width="1" height="1" fill="#dcdcdc"/><rect y="189" width="1" height="1" fill="#dedede"/><rect y="190" width="1" height="1" fill="#e0e0e0"/><rect y="191" width="1" height="1" fill="#e2e2e2"/><rect y="192" width="1" height="1" fill="#e5e5e5"/><rect y="193" width="1" height="1" fill="#e7e7e7"/><rect y="194" width="1" height="1" fill="#e9e9e9"/><rect y="195" width="1" height="1" fill="#ebebeb"/><rect y="196" width="1" height="1" fill="#ededed"/><rect y="197" width="1" height="1" fill="#efefef"/><rect y="198" width="1" height="1" fill="#f1f1f1"/><rect y="199" width="1" height="1" fill="#f2f2f2"/><rect y="200" width="1" height="1" fill="#f4f4f4"/><rect y="201" width="1" height="2" fill="#f5f5f5"/><rect y="203" width="1" height="2" fill="#f6f6f6"/><rect y="205" width="1" height="3" fill="#f7f7f7"/><rect y="208" width="1" height="3" fill="#f8f8f8"/><rect y="211" width="1" height="5" fill="#f9f9f9"/><rect y="216" width="1" height="9" fill="#fafafa"/><rect y="225" width="1" height="3" fill="#f9f9f9"/><rect y="228" width="1" height="4" fill="#f8f8f8"/><rect y="232" width="1" height="2" fill="#f9f9f9"/><rect y="234" width="1" height="16" fill="#fafafa"/><rect y="250" width="1" height="11" fill="#fbfbfb"/></svg>
<svg x="404.7" y="66" width="42.1" height="259" viewBox="0 0 1 259" preserveAspectRatio="none"><rect y="0" width="1" height="10" fill="#fcfcfc"/><rect y="10" width="1" height="21" fill="#fbfbfb"/><rect y="31" width="1" height="20" fill="#fafafa"/><rect y="51" width="1" height="21" fill="#f9f9f9"/><rect y="72" width="1" height="4" fill="#f8f8f8"/><rect y="76" width="1" height="2" fill="#f7f7f7"/><rect y="78" width="1" height="2" fill="#f6f6f6"/><rect y="80" width="1" height="2" fill="#f5f5f5"/><rect y="82" width="1" height="2" fill="#f4f4f4"/><rect y="84" width="1" height="1" fill="#f3f3f3"/><rect y="85" width="1" height="2" fill="#f2f2f2"/><rect y="87" width="1" height="2" fill="#f1f1f1"/><rect y="89" width="1" height="1" fill="#f0f0f0"/><rect y="90" width="1" height="2" fill="#efefef"/><rect y="92" width="1" height="1" fill="#eeeeee"/><rect y="93" width="1" height="2" fill="#ededed"/><rect y="95" width="1" height="1" fill="#ececec"/><rect y="96" width="1" height="2" fill="#ebebeb"/><rect y="98" width="1" height="1" fill="#eaeaea"/><rect y="99" width="1" height="1" fill="#e8e8e8"/><rect y="100" width="1" height="1" fill="#e7e7e7"/><rect y="101" width="1" height="1" fill="#e4e4e4"/><rect y="102" width="1" height="1" fill="#e2e2e2"/><rect y="103" width="1" height="1" fill="#dfdfdf"/><rect y="104" width="1" height="1" fill="#dcdcdc"/><rect y="105" width="1" height="1" fill="#d9d9d9"/><rect y="106" width="1" height="1" fill="#d6d6d6"/><rect y="107" width="1" height="1" fill="#d2d2d2"/><rect y="108" width="1" height="1" fill="#cbcbcb"/><rect y="109" width="1" height="1" fill="#c1c1c1"/><rect y="110" width="1" height="1" fill="#afafaf"/><rect y="111" width="1" height="1" fill="#919191"/><rect y="112" width="1" height="1" fill="#666666"/><rect y="113" width="1" height="1" fill="#373737"/><rect y="114" width="1" height="1" fill="#151515"/><rect y="115" width="1" height="1" fill="#0c0c0c"/><rect y="116" width="1" height="1" fill="#1c1c1c"/><rect y="117" width="1" height="1" fill="#373737"/><rect y="118" width="1" height="1" fill="#505050"/><rect y="119" width="1" height="1" fill="#636363"/><rect y="120" width="1" height="1" fill="#6e6e6e"/><rect y="121" width="1" height="1" fill="#757575"/><rect y="122" width="1" height="1" fill="#797979"/><rect y="123" width="1" height="1" fill="#7c7c7c"/><rect y="124" width="1" height="1" fill="#7d7d7d"/><rect y="125" width="1" height="1" fill="#7f7f7f"/><rect y="126" width="1" height="3" fill="#808080"/><rect y="129" width="1" height="1" fill="#7f7f7f"/><rect y="130" width="1" height="1" fill="#7e7e7e"/><rect y="131" width="1" height="1" fill="#7c7c7c"/><rect y="132" width="1" height="1" fill="#797979"/><rect y="133" width="1" height="1" fill="#737373"/><rect y="134" width="1" height="1" fill="#696969"/><rect y="135" width="1" height="1" fill="#575757"/><rect y="136" width="1" height="1" fill="#3d3d3d"/><rect y="137" width="1" height="1" fill="#242424"/><rect y="138" width="1" height="1" fill="#191919"/><rect y="139" width="1" height="1" fill="#252525"/><rect y="140" width="1" height="1" fill="#444444"/><rect y="141" width="1" height="1" fill="#666666"/><rect y="142" width="1" height="1" fill="#808080"/><rect y="143" width="1" height="1" fill="#8f8f8f"/><rect y="144" width="1" height="1" fill="#979797"/><rect y="145" width="1" height="1" fill="#9b9b9b"/><rect y="146" width="1" height="1" fill="#9e9e9e"/><rect y="147" width="1" height="1" fill="#a0a0a0"/><rect y="148" width="1" height="1" fill="#a3a3a3"/><rect y="149" width="1" height="1" fill="#a6a6a6"/><rect y="150" width="1" height="2" fill="#a8a8a8"/><rect y="152" width="1" height="1" fill="#a4a4a4"/><rect y="153" width="1" height="1" fill="#a0a0a0"/><rect y="154" width="1" height="1" fill="#9f9f9f"/><rect y="155" width="1" height="1" fill="#a4a4a4"/><rect y="156" width="1" height="1" fill="#adadad"/><rect y="157" width="1" height="1" fill="#b6b6b6"/><rect y="158" width="1" height="1" fill="#bbbbbb"/><rect y="159" width="1" height="2" fill="#bebebe"/><rect y="161" width="1" height="5" fill="#bfbfbf"/><rect y="166" width="1" height="5" fill="#c0c0c0"/><rect y="171" width="1" height="5" fill="#c1c1c1"/><rect y="176" width="1" height="3" fill="#c2c2c2"/><rect y="179" width="1" height="1" fill="#c4c4c4"/><rect y="180" width="1" height="1" fill="#c6c6c6"/><rect y="181" width="1" height="1" fill="#c8c8c8"/><rect y="182" width="1" height="1" fill="#cbcbcb"/><rect y="183" width="1" height="1" fill="#cdcdcd"/><rect y="184" width="1" height="1" fill="#d0d0d0"/><rect y="185" width="1" height="1" fill="#d2d2d2"/><rect y="186" width="1" height="1" fill="#d5d5d5"/><rect y="187" width="1" height="1" fill="#d8d8d8"/><rect y="188" width="1" height="1" fill="#dadada"/><rect y="189" width="1" height="1" fill="#dddddd"/><rect y="190" width="1" height="1" fill="#e0e0e0"/><rect y="191" width="1" height="1" fill="#e4e4e4"/><rect y="192" width="1" height="1" fill="#e7e7e7"/><rect y="193" width="1" height="1" fill="#eaeaea"/><rect y="194" width="1" height="1" fill="#ececec"/><rect y="195" width="1" height="1" fill="#eeeeee"/><rect y="196" width="1" height="1" fill="#efefef"/><rect y="197" width="1" height="2" fill="#f0f0f0"/><rect y="199" width="1" height="1" fill="#f1f1f1"/><rect y="200" width="1" height="1" fill="#f2f2f2"/><rect y="201" width="1" height="1" fill="#f3f3f3"/><rect y="202" width="1" height="1" fill="#f4f4f4"/><rect y="203" width="1" height="2" fill="#f5f5f5"/><rect y="205" width="1" height="1" fill="#f6f6f6"/><rect y="206" width="1" height="2" fill="#f7f7f7"/><rect y="208" width="1" height="3" fill="#f8f8f8"/><rect y="211" width="1" height="13" fill="#f9f9f9"/><rect y="224" width="1" height="5" fill="#f8f8f8"/><rect y="229" width="1" height="2" fill="#f9f9f9"/><rect y="231" width="1" height="7" fill="#fafafa"/><rect y="238" width="1" height="14" fill="#fbfbfb"/><rect y="252" width="1" height="7" fill="#fcfcfc"/></svg>
<svg x="452.4" y="70" width="41.1" height="255" viewBox="0 0 1 255" preserveAspectRatio="none"><rect y="0" width="1" height="10" fill="#fcfcfc"/><rect y="10" width="1" height="19" fill="#fbfbfb"/><rect y="29" width="1" height="20" fill="#fafafa"/><rect y="49" width="1" height="19" fill="#f9f9f9"/><rect y="68" width="1" height="6" fill="#f8f8f8"/><rect y="74" width="1" height="4" fill="#f7f7f7"/><rect y="78" width="1" height="5" fill="#f6f6f6"/><rect y="83" width="1" height="4" fill="#f5f5f5"/><rect y="87" width="1" height="3" fill="#f4f4f4"/><rect y="90" width="1" height="4" fill="#f3f3f3"/><rect y="94" width="1" height="4" fill="#f2f2f2"/><rect y="98" width="1" height="2" fill="#f1f1f1"/><rect y="100" width="1" height="1" fill="#f0f0f0"/><rect y="101" width="1" height="1" fill="#efefef"/><rect y="102" width="1" height="1" fill="#eeeeee"/><rect y="103" width="1" height="1" fill="#ececec"/><rect y="104" width="1" height="1" fill="#eaeaea"/><rect y="105" width="1" height="1" fill="#e7e7e7"/><rect y="106" width="1" height="1" fill="#e4e4e4"/><rect y="107" width="1" height="1" fill="#dedede"/><rect y="108" width="1" height="1" fill="#d8d8d8"/><rect y="109" width="1" height="1" fill="#cacaca"/><rect y="110" width="1" height="1" fill="#b3b3b3"/><rect y="111" width="1" height="1" fill="#9b9b9b"/><rect y="112" width="1" height="1" fill="#909090"/><rect y="113" width="1" height="1" fill="#979797"/><rect y="114" width="1" height="1" fill="#a7a7a7"/><rect y="115" width="1" height="1" fill="#b4b4b4"/><rect y="116" width="1" height="1" fill="#bababa"/><rect y="117" width="1" height="1" fill="#bdbdbd"/><rect y="118" width="1" height="1" fill="#bebebe"/><rect y="119" width="1" height="3" fill="#bfbfbf"/><rect y="122" width="1" height="2" fill="#bebebe"/><rect y="124" width="1" height="2" fill="#bdbdbd"/><rect y="126" width="1" height="1" fill="#bcbcbc"/><rect y="127" width="1" height="1" fill="#bbbbbb"/><rect y="128" width="1" height="1" fill="#bababa"/><rect y="129" width="1" height="1" fill="#b9b9b9"/><rect y="130" width="1" height="1" fill="#b8b8b8"/><rect y="131" width="1" height="1" fill="#b6b6b6"/><rect y="132" width="1" height="1" fill="#b4b4b4"/><rect y="133" width="1" height="1" fill="#b1b1b1"/><rect y="134" width="1" height="1" fill="#acacac"/><rect y="135" width="1" height="1" fill="#a2a2a2"/><rect y="136" width="1" height="1" fill="#929292"/><rect y="137" width="1" height="1" fill="#7b7b7b"/><rect y="138" width="1" height="1" fill="#656565"/><rect y="139" width="1" height="1" fill="#5d5d5d"/><rect y="140" width="1" height="1" fill="#646464"/><rect y="141" width="1" height="1" fill="#727272"/><rect y="142" width="1" height="1" fill="#7e7e7e"/><rect y="143" width="1" height="1" fill="#848484"/><rect y="144" width="1" height="1" fill="#878787"/><rect y="145" width="1" height="1" fill="#888888"/><rect y="146" width="1" height="1" fill="#8b8b8b"/><rect y="147" width="1" height="1" fill="#8e8e8e"/><rect y="148" width="1" height="1" fill="#929292"/><rect y="149" width="1" height="1" fill="#959595"/><rect y="150" width="1" height="2" fill="#979797"/><rect y="152" width="1" height="1" fill="#959595"/><rect y="153" width="1" height="1" fill="#939393"/><rect y="154" width="1" height="1" fill="#909090"/><rect y="155" width="1" height="1" fill="#8e8e8e"/><rect y="156" width="1" height="1" fill="#8d8d8d"/><rect y="157" width="1" height="1" fill="#8e8e8e"/><rect y="158" width="1" height="1" fill="#919191"/><rect y="159" width="1" height="1" fill="#949494"/><rect y="160" width="1" height="1" fill="#979797"/><rect y="161" width="1" height="1" fill="#999999"/><rect y="162" width="1" height="24" fill="#9a9a9a"/><rect y="186" width="1" height="1" fill="#9b9b9b"/><rect y="187" width="1" height="1" fill="#9c9c9c"/><rect y="188" width="1" height="1" fill="#9f9f9f"/><rect y="189" width="1" height="1" fill="#a2a2a2"/><rect y="190" width="1" height="1" fill="#a4a4a4"/><rect y="191" width="1" height="1" fill="#a8a8a8"/><rect y="192" width="1" height="1" fill="#ababab"/><rect y="193" width="1" height="1" fill="#aeaeae"/><rect y="194" width="1" height="1" fill="#b1b1b1"/><rect y="195" width="1" height="1" fill="#b4b4b4"/><rect y="196" width="1" height="1" fill="#b8b8b8"/><rect y="197" width="1" height="1" fill="#bdbdbd"/><rect y="198" width="1" height="1" fill="#c1c1c1"/><rect y="199" width="1" height="1" fill="#c5c5c5"/><rect y="200" width="1" height="1" fill="#c9c9c9"/><rect y="201" width="1" height="1" fill="#cecece"/><rect y="202" width="1" height="1" fill="#d1d1d1"/><rect y="203" width="1" height="1" fill="#d4d4d4"/><rect y="204" width="1" height="1" fill="#d7d7d7"/><rect y="205" width="1" height="1" fill="#d9d9d9"/><rect y="206" width="1" height="1" fill="#dbdbdb"/><rect y="207" width="1" height="1" fill="#dddddd"/><rect y="208" width="1" height="1" fill="#e0e0e0"/><rect y="209" width="1" height="1" fill="#e3e3e3"/><rect y="210" width="1" height="1" fill="#e6e6e6"/><rect y="211" width="1" height="1" fill="#e8e8e8"/><rect y="212" width="1" height="1" fill="#ebebeb"/><rect y="213" width="1" height="1" fill="#ededed"/><rect y="214" width="1" height="1" fill="#efefef"/><rect y="215" width="1" height="1" fill="#f1f1f1"/><rect y="216" width="1" height="1" fill="#f2f2f2"/><rect y="217" width="1" height="1" fill="#f3f3f3"/><rect y="218" width="1" height="2" fill="#f4f4f4"/><rect y="220" width="1" height="1" fill="#f5f5f5"/><rect y="221" width="1" height="2" fill="#f6f6f6"/><rect y="223" width="1" height="1" fill="#f7f7f7"/><rect y="224" width="1" height="2" fill="#f8f8f8"/><rect y="226" width="1" height="9" fill="#f9f9f9"/><rect y="235" width="1" height="15" fill="#fafafa"/><rect y="250" width="1" height="5" fill="#fbfbfb"/></svg>
<svg x="498.7" y="70" width="42.3" height="255" viewBox="0 0 1 255" preserveAspectRatio="none"><rect y="0" width="1" height="18" fill="#fcfcfc"/><rect y="18" width="1" height="35" fill="#fbfbfb"/><rect y="53" width="1" height="31" fill="#fafafa"/><rect y="84" width="1" height="2" fill="#f9f9f9"/><rect y="86" width="1" height="2" fill="#f8f8f8"/><rect y="88" width="1" height="1" fill="#f6f6f6"/><rect y="89" width="1" height="1" fill="#f4f4f4"/><rect y="90" width="1" height="1" fill="#f1f1f1"/><rect y="91" width="1" height="1" fill="#ebebeb"/><rect y="92" width="1" height="1" fill="#e3e3e3"/><rect y="93" width="1" height="2" fill="#dedede"/><rect y="95" width="1" height="1" fill="#e0e0e0"/><rect y="96" width="1" height="1" fill="#e4e4e4"/><rect y="97" width="1" height="1" fill="#e5e5e5"/><rect y="98" width="1" height="1" fill="#e6e6e6"/><rect y="99" width="1" height="1" fill="#e5e5e5"/><rect y="100" width="1" height="1" fill="#e4e4e4"/><rect y="101" width="1" height="1" fill="#e3e3e3"/><rect y="102" width="1" height="1" fill="#e1e1e1"/><rect y="103" width="1" height="1" fill="#dfdfdf"/><rect y="104" width="1" height="1" fill="#dcdcdc"/><rect y="105" width="1" height="1" fill="#d8d8d8"/><rect y="106" width="1" height="1" fill="#d2d2d2"/><rect y="107" width="1" height="1" fill="#c5c5c5"/><rect y="108" width="1" height="1" fill="#acacac"/><rect y="109" width="1" height="1" fill="#858585"/><rect y="110" width="1" height="1" fill="#606060"/><rect y="111" width="1" height="1" fill="#515151"/><rect y="112" width="1" height="1" fill="#606060"/><rect y="113" width="1" height="1" fill="#808080"/><rect y="114" width="1" height="1" fill="#9d9d9d"/><rect y="115" width="1" height="1" fill="#adadad"/><rect y="116" width="1" height="1" fill="#b5b5b5"/><rect y="117" width="1" height="1" fill="#b9b9b9"/><rect y="118" width="1" height="1" fill="#bbbbbb"/><rect y="119" width="1" height="1" fill="#bdbdbd"/><rect y="120" width="1" height="5" fill="#bebebe"/><rect y="125" width="1" height="2" fill="#bdbdbd"/><rect y="127" width="1" height="1" fill="#bcbcbc"/><rect y="128" width="1" height="1" fill="#bbbbbb"/><rect y="129" width="1" height="1" fill="#bababa"/><rect y="130" width="1" height="1" fill="#b7b7b7"/><rect y="131" width="1" height="1" fill="#b4b4b4"/><rect y="132" width="1" height="1" fill="#adadad"/><rect y="133" width="1" height="1" fill="#a1a1a1"/><rect y="134" width="1" height="1" fill="#8c8c8c"/><rect y="135" width="1" height="1" fill="#747474"/><rect y="136" width="1" height="1" fill="#686868"/><rect y="137" width="1" height="1" fill="#707070"/><rect y="138" width="1" height="1" fill="#838383"/><rect y="139" width="1" height="1" fill="#949494"/><rect y="140" width="1" height="1" fill="#9d9d9d"/><rect y="141" width="1" height="1" fill="#a0a0a0"/><rect y="142" width="1" height="1" fill="#a3a3a3"/><rect y="143" width="1" height="1" fill="#a8a8a8"/><rect y="144" width="1" height="1" fill="#afafaf"/><rect y="145" width="1" height="1" fill="#b6b6b6"/><rect y="146" width="1" height="1" fill="#bbbbbb"/><rect y="147" width="1" height="1" fill="#bdbdbd"/><rect y="148" width="1" height="1" fill="#bbbbbb"/><rect y="149" width="1" height="1" fill="#b7b7b7"/><rect y="150" width="1" height="1" fill="#b2b2b2"/><rect y="151" width="1" height="2" fill="#afafaf"/><rect y="153" width="1" height="1" fill="#b2b2b2"/><rect y="154" width="1" height="1" fill="#b8b8b8"/><rect y="155" width="1" height="1" fill="#bebebe"/><rect y="156" width="1" height="1" fill="#c3c3c3"/><rect y="157" width="1" height="1" fill="#c7c7c7"/><rect y="158" width="1" height="4" fill="#c8c8c8"/><rect y="162" width="1" height="8" fill="#c9c9c9"/><rect y="170" width="1" height="4" fill="#cacaca"/><rect y="174" width="1" height="1" fill="#cbcbcb"/><rect y="175" width="1" height="1" fill="#cdcdcd"/><rect y="176" width="1" height="1" fill="#d0d0d0"/><rect y="177" width="1" height="1" fill="#d4d4d4"/><rect y="178" width="1" height="1" fill="#d7d7d7"/><rect y="179" width="1" height="1" fill="#dbdbdb"/><rect y="180" width="1" height="1" fill="#dfdfdf"/><rect y="181" width="1" height="1" fill="#e5e5e5"/><rect y="182" width="1" height="1" fill="#eaeaea"/><rect y="183" width="1" height="1" fill="#efefef"/><rect y="184" width="1" height="1" fill="#f2f2f2"/><rect y="185" width="1" height="1" fill="#f5f5f5"/><rect y="186" width="1" height="1" fill="#f6f6f6"/><rect y="187" width="1" height="2" fill="#f7f7f7"/><rect y="189" width="1" height="1" fill="#f8f8f8"/><rect y="190" width="1" height="2" fill="#f9f9f9"/><rect y="192" width="1" height="3" fill="#fafafa"/><rect y="195" width="1" height="23" fill="#fbfbfb"/><rect y="218" width="1" height="34" fill="#fcfcfc"/><rect y="252" width="1" height="3" fill="#fdfdfd"/></svg>
<svg x="546.1" y="70" width="41.7" height="255" viewBox="0 0 1 255" preserveAspectRatio="none"><rect y="0" width="1" height="18" fill="#fcfcfc"/><rect y="18" width="1" height="37" fill="#fbfbfb"/><rect y="55" width="1" height="32" fill="#fafafa"/><rect y="87" width="1" height="2" fill="#f9f9f9"/><rect y="89" width="1" height="1" fill="#f7f7f7"/><rect y="90" width="1" height="1" fill="#f6f6f6"/><rect y="91" width="1" height="1" fill="#f3f3f3"/><rect y="92" width="1" height="1" fill="#efefef"/><rect y="93" width="1" height="1" fill="#eaeaea"/><rect y="94" width="1" height="1" fill="#e3e3e3"/><rect y="95" width="1" height="2" fill="#dfdfdf"/><rect y="97" width="1" height="1" fill="#e3e3e3"/><rect y="98" width="1" height="1" fill="#e8e8e8"/><rect y="99" width="1" height="1" fill="#eaeaea"/><rect y="100" width="1" height="1" fill="#ebebeb"/><rect y="101" width="1" height="1" fill="#eaeaea"/><rect y="102" width="1" height="1" fill="#e9e9e9"/><rect y="103" width="1" height="1" fill="#e8e8e8"/><rect y="104" width="1" height="1" fill="#e7e7e7"/><rect y="105" width="1" height="1" fill="#e5e5e5"/><rect y="106" width="1" height="1" fill="#e3e3e3"/><rect y="107" width="1" height="1" fill="#e0e0e0"/><rect y="108" width="1" height="1" fill="#dcdcdc"/><rect y="109" width="1" height="1" fill="#d6d6d6"/><rect y="110" width="1" height="1" fill="#cacaca"/><rect y="111" width="1" height="1" fill="#b7b7b7"/><rect y="112" width="1" height="1" fill="#a0a0a0"/><rect y="113" width="1" height="1" fill="#8e8e8e"/><rect y="114" width="1" height="1" fill="#8b8b8b"/><rect y="115" width="1" height="1" fill="#979797"/><rect y="116" width="1" height="1" fill="#a8a8a8"/><rect y="117" width="1" height="1" fill="#b6b6b6"/><rect y="118" width="1" height="1" fill="#bebebe"/><rect y="119" width="1" height="1" fill="#c3c3c3"/><rect y="120" width="1" height="1" fill="#c5c5c5"/><rect y="121" width="1" height="1" fill="#c6c6c6"/><rect y="122" width="1" height="7" fill="#c7c7c7"/><rect y="129" width="1" height="2" fill="#c6c6c6"/><rect y="131" width="1" height="1" fill="#c5c5c5"/><rect y="132" width="1" height="1" fill="#c4c4c4"/><rect y="133" width="1" height="1" fill="#c2c2c2"/><rect y="134" width="1" height="1" fill="#bdbdbd"/><rect y="135" width="1" height="1" fill="#b4b4b4"/><rect y="136" width="1" height="1" fill="#a6a6a6"/><rect y="137" width="1" height="1" fill="#969696"/><rect y="138" width="1" height="1" fill="#8b8b8b"/><rect y="139" width="1" height="1" fill="#8a8a8a"/><rect y="140" width="1" height="1" fill="#919191"/><rect y="141" width="1" height="1" fill="#9b9b9b"/><rect y="142" width="1" height="1" fill="#a2a2a2"/><rect y="143" width="1" height="1" fill="#a6a6a6"/><rect y="144" width="1" height="1" fill="#a9a9a9"/><rect y="145" width="1" height="1" fill="#aeaeae"/><rect y="146" width="1" height="1" fill="#b3b3b3"/><rect y="147" width="1" height="1" fill="#b9b9b9"/><rect y="148" width="1" height="1" fill="#bdbdbd"/><rect y="149" width="1" height="1" fill="#bebebe"/><rect y="150" width="1" height="1" fill="#bdbdbd"/><rect y="151" width="1" height="1" fill="#bababa"/><rect y="152" width="1" height="1" fill="#b8b8b8"/><rect y="153" width="1" height="2" fill="#b6b6b6"/><rect y="155" width="1" height="1" fill="#b8b8b8"/><rect y="156" width="1" height="1" fill="#bdbdbd"/><rect y="157" width="1" height="1" fill="#c2c2c2"/><rect y="158" width="1" height="1" fill="#c6c6c6"/><rect y="159" width="1" height="1" fill="#c9c9c9"/><rect y="160" width="1" height="3" fill="#cacaca"/><rect y="163" width="1" height="8" fill="#cbcbcb"/><rect y="171" width="1" height="3" fill="#cccccc"/><rect y="174" width="1" height="1" fill="#cdcdcd"/><rect y="175" width="1" height="1" fill="#cecece"/><rect y="176" width="1" height="1" fill="#d0d0d0"/><rect y="177" width="1" height="1" fill="#d3d3d3"/><rect y="178" width="1" height="1" fill="#d6d6d6"/><rect y="179" width="1" height="1" fill="#d8d8d8"/><rect y="180" width="1" height="1" fill="#dbdbdb"/><rect y="181" width="1" height="1" fill="#dedede"/><rect y="182" width="1" height="1" fill="#e2e2e2"/><rect y="183" width="1" height="1" fill="#e6e6e6"/><rect y="184" width="1" height="1" fill="#eaeaea"/><rect y="185" width="1" height="1" fill="#ededed"/><rect y="186" width="1" height="1" fill="#f1f1f1"/><rect y="187" width="1" height="1" fill="#f3f3f3"/><rect y="188" width="1" height="1" fill="#f5f5f5"/><rect y="189" width="1" height="2" fill="#f6f6f6"/><rect y="191" width="1" height="1" fill="#f7f7f7"/><rect y="192" width="1" height="2" fill="#f8f8f8"/><rect y="194" width="1" height="3" fill="#f9f9f9"/><rect y="197" width="1" height="2" fill="#fafafa"/><rect y="199" width="1" height="22" fill="#fbfbfb"/><rect y="221" width="1" height="31" fill="#fcfcfc"/><rect y="252" width="1" height="3" fill="#fdfdfd"/></svg>
<svg x="593.1" y="72" width="41.5" height="253" viewBox="0 0 1 253" preserveAspectRatio="none"><rect y="0" width="1" height="9" fill="#fcfcfc"/><rect y="9" width="1" height="10" fill="#fbfbfb"/><rect y="19" width="1" height="16" fill="#fafafa"/><rect y="35" width="1" height="25" fill="#f9f9f9"/><rect y="60" width="1" height="24" fill="#f8f8f8"/><rect y="84" width="1" height="7" fill="#f7f7f7"/><rect y="91" width="1" height="3" fill="#f6f6f6"/><rect y="94" width="1" height="3" fill="#f5f5f5"/><rect y="97" width="1" height="2" fill="#f4f4f4"/><rect y="99" width="1" height="2" fill="#f3f3f3"/><rect y="101" width="1" height="2" fill="#f2f2f2"/><rect y="103" width="1" height="1" fill="#f0f0f0"/><rect y="104" width="1" height="1" fill="#eeeeee"/><rect y="105" width="1" height="1" fill="#ebebeb"/><rect y="106" width="1" height="1" fill="#e5e5e5"/><rect y="107" width="1" height="1" fill="#dcdcdc"/><rect y="108" width="1" height="1" fill="#d4d4d4"/><rect y="109" width="1" height="1" fill="#d1d1d1"/><rect y="110" width="1" height="1" fill="#d5d5d5"/><rect y="111" width="1" height="1" fill="#dcdcdc"/><rect y="112" width="1" height="1" fill="#e2e2e2"/><rect y="113" width="1" height="1" fill="#e5e5e5"/><rect y="114" width="1" height="3" fill="#e6e6e6"/><rect y="117" width="1" height="1" fill="#e5e5e5"/><rect y="118" width="1" height="2" fill="#e4e4e4"/><rect y="120" width="1" height="1" fill="#e3e3e3"/><rect y="121" width="1" height="1" fill="#e2e2e2"/><rect y="122" width="1" height="1" fill="#e1e1e1"/><rect y="123" width="1" height="1" fill="#e0e0e0"/><rect y="124" width="1" height="1" fill="#dfdfdf"/><rect y="125" width="1" height="1" fill="#dedede"/><rect y="126" width="1" height="1" fill="#dddddd"/><rect y="127" width="1" height="2" fill="#dcdcdc"/><rect y="129" width="1" height="1" fill="#dbdbdb"/><rect y="130" width="1" height="2" fill="#dadada"/><rect y="132" width="1" height="1" fill="#d9d9d9"/><rect y="133" width="1" height="1" fill="#d6d6d6"/><rect y="134" width="1" height="1" fill="#d2d2d2"/><rect y="135" width="1" height="1" fill="#cccccc"/><rect y="136" width="1" height="1" fill="#c7c7c7"/><rect y="137" width="1" height="1" fill="#c6c6c6"/><rect y="138" width="1" height="1" fill="#c7c7c7"/><rect y="139" width="1" height="1" fill="#cacaca"/><rect y="140" width="1" height="1" fill="#cccccc"/><rect y="141" width="1" height="1" fill="#cecece"/><rect y="142" width="1" height="2" fill="#cfcfcf"/><rect y="144" width="1" height="1" fill="#d0d0d0"/><rect y="145" width="1" height="4" fill="#d1d1d1"/><rect y="149" width="1" height="1" fill="#cfcfcf"/><rect y="150" width="1" height="1" fill="#cdcdcd"/><rect y="151" width="1" height="1" fill="#cccccc"/><rect y="152" width="1" height="2" fill="#cbcbcb"/><rect y="154" width="1" height="1" fill="#cccccc"/><rect y="155" width="1" height="2" fill="#cdcdcd"/><rect y="157" width="1" height="1" fill="#cccccc"/><rect y="158" width="1" height="1" fill="#cbcbcb"/><rect y="159" width="1" height="1" fill="#c9c9c9"/><rect y="160" width="1" height="1" fill="#c7c7c7"/><rect y="161" width="1" height="21" fill="#c6c6c6"/><rect y="182" width="1" height="1" fill="#c7c7c7"/><rect y="183" width="1" height="1" fill="#c9c9c9"/><rect y="184" width="1" height="1" fill="#cccccc"/><rect y="185" width="1" height="1" fill="#d0d0d0"/><rect y="186" width="1" height="1" fill="#d3d3d3"/><rect y="187" width="1" height="1" fill="#d7d7d7"/><rect y="188" width="1" height="1" fill="#dbdbdb"/><rect y="189" width="1" height="1" fill="#dfdfdf"/><rect y="190" width="1" height="1" fill="#e4e4e4"/><rect y="191" width="1" height="1" fill="#e8e8e8"/><rect y="192" width="1" height="1" fill="#ececec"/><rect y="193" width="1" height="1" fill="#efefef"/><rect y="194" width="1" height="1" fill="#f1f1f1"/><rect y="195" width="1" height="1" fill="#f2f2f2"/><rect y="196" width="1" height="2" fill="#f3f3f3"/><rect y="198" width="1" height="2" fill="#f4f4f4"/><rect y="200" width="1" height="3" fill="#f5f5f5"/><rect y="203" width="1" height="3" fill="#f6f6f6"/><rect y="206" width="1" height="10" fill="#f7f7f7"/><rect y="216" width="1" height="37" fill="#f8f8f8"/></svg>
</g>
<text x="0.77" y="23.8" font-size="32.5" text-anchor="start" fill="#000" font-weight="bold" textLength="23.86" lengthAdjust="spacingAndGlyphs" >A</text>
<text x="140.65" y="54.9" font-size="16" text-anchor="start" fill="#000" font-weight="bold" textLength="7.25" lengthAdjust="spacingAndGlyphs" >1</text>
<text x="188.91" y="54.9" font-size="16" text-anchor="start" fill="#000" font-weight="bold" textLength="7.25" lengthAdjust="spacingAndGlyphs" >2</text>
<text x="235.48" y="54.9" font-size="16" text-anchor="start" fill="#000" font-weight="bold" textLength="7.25" lengthAdjust="spacingAndGlyphs" >3</text>
<text x="280.28" y="54.9" font-size="16" text-anchor="start" fill="#000" font-weight="bold" textLength="7.25" lengthAdjust="spacingAndGlyphs" >4</text>
<text x="327.35" y="54.9" font-size="16" text-anchor="start" fill="#000" font-weight="bold" textLength="7.25" lengthAdjust="spacingAndGlyphs" >5</text>
<text x="373.38" y="54.9" font-size="16" text-anchor="start" fill="#000" font-weight="bold" textLength="7.25" lengthAdjust="spacingAndGlyphs" >6</text>
<text x="420.88" y="54.9" font-size="16" text-anchor="start" fill="#000" font-weight="bold" textLength="7.25" lengthAdjust="spacingAndGlyphs" >7</text>
<text x="469.35" y="54.9" font-size="16" text-anchor="start" fill="#000" font-weight="bold" textLength="7.25" lengthAdjust="spacingAndGlyphs" >8</text>
<text x="514.91" y="54.9" font-size="16" text-anchor="start" fill="#000" font-weight="bold" textLength="7.25" lengthAdjust="spacingAndGlyphs" >9</text>
<text x="556.1" y="54.9" font-size="16" text-anchor="start" fill="#000" font-weight="bold" textLength="14.5" lengthAdjust="spacingAndGlyphs" >10</text>
<text x="604.39" y="54.9" font-size="16" text-anchor="start" fill="#000" font-weight="bold" textLength="13.79" lengthAdjust="spacingAndGlyphs" >11</text>
<text x="73.58" y="166" font-size="12" text-anchor="start" fill="#000" textLength="31.91" lengthAdjust="spacingAndGlyphs" stroke="#000" stroke-width="0.3">6000</text>
<line x1="108" x2="116.5" y1="162.2" y2="162.2" stroke="#999" stroke-width="1"/>
<text x="74.02" y="177.5" font-size="12" text-anchor="start" fill="#000" textLength="31.47" lengthAdjust="spacingAndGlyphs" stroke="#000" stroke-width="0.3">4000</text>
<line x1="108" x2="116.5" y1="172.8" y2="172.8" stroke="#bbb" stroke-width="1"/>
<text x="73.58" y="204.6" font-size="12" text-anchor="start" fill="#000" textLength="31.91" lengthAdjust="spacingAndGlyphs" stroke="#000" stroke-width="0.3">2000</text>
<line x1="108" x2="116.5" y1="200.2" y2="200.2" stroke="#bbb" stroke-width="1"/>
<text x="73.21" y="234.2" font-size="12" text-anchor="start" fill="#000" textLength="32.29" lengthAdjust="spacingAndGlyphs" stroke="#000" stroke-width="0.3">1000</text>
<line x1="108" x2="116.5" y1="229.8" y2="229.8" stroke="#ccc" stroke-width="1"/>
<text x="73.72" y="263.1" font-size="12" text-anchor="start" fill="#000" textLength="24.03" lengthAdjust="spacingAndGlyphs" stroke="#000" stroke-width="0.3">500</text>
<line x1="108" x2="116.5" y1="258.6" y2="258.6" stroke="#777" stroke-width="1"/>
<text x="73.58" y="287.5" font-size="12" text-anchor="start" fill="#000" textLength="24.18" lengthAdjust="spacingAndGlyphs" stroke="#000" stroke-width="0.3">200</text>
<line x1="108" x2="116.5" y1="283.4" y2="283.4" stroke="#777" stroke-width="1"/>
<line x1="644.2" x2="651.7" y1="181.5" y2="181.5" stroke="#a8a8a8" stroke-width="1"/>
<text x="654.07" y="185.6" font-size="12.7" text-anchor="start" fill="#000" font-weight="bold" textLength="19.35" lengthAdjust="spacingAndGlyphs" >25S</text>
<line x1="644.2" x2="651.7" y1="206.5" y2="206.5" stroke="#a8a8a8" stroke-width="1"/>
<text x="653.74" y="211.0" font-size="12.7" text-anchor="start" fill="#000" font-weight="bold" textLength="19.7" lengthAdjust="spacingAndGlyphs" >18S</text>
<text x="118.04" y="346.7" font-size="15.6" text-anchor="start" fill="#000" textLength="48.98" lengthAdjust="spacingAndGlyphs" stroke="#000" stroke-width="0.2">Ladder</text>
<text x="179.8" y="346.7" font-size="15.6" text-anchor="start" fill="#000" textLength="31.32" lengthAdjust="spacingAndGlyphs" stroke="#000" stroke-width="0.2">Total</text>
<text x="178.69" y="363.9" font-size="15.6" text-anchor="start" fill="#000" textLength="31.93" lengthAdjust="spacingAndGlyphs" stroke="#000" stroke-width="0.2">RNA</text>
<text x="230.92" y="345.2" font-size="14.5" text-anchor="start" fill="#000" textLength="18.95" lengthAdjust="spacingAndGlyphs" >1:1</text>
<text x="276.3" y="345.2" font-size="14.5" text-anchor="start" fill="#000" textLength="18.95" lengthAdjust="spacingAndGlyphs" >3:1</text>
<text x="321.99" y="345.2" font-size="14.5" text-anchor="start" fill="#000" textLength="18.95" lengthAdjust="spacingAndGlyphs" >6:1</text>
<text x="358.15" y="345.2" font-size="14.5" text-anchor="start" fill="#000" textLength="37.9" lengthAdjust="spacingAndGlyphs" >13.3:1</text>
<text x="413.91" y="345.2" font-size="14.5" text-anchor="start" fill="#000" textLength="26.53" lengthAdjust="spacingAndGlyphs" >25:1</text>
<text x="458.88" y="345.2" font-size="14.5" text-anchor="start" fill="#000" textLength="26.53" lengthAdjust="spacingAndGlyphs" >50:1</text>
<text x="503.36" y="345.2" font-size="14.5" text-anchor="start" fill="#000" textLength="34.11" lengthAdjust="spacingAndGlyphs" >125:1</text>
<text x="556.48" y="345.2" font-size="14.5" text-anchor="start" fill="#000" textLength="26.53" lengthAdjust="spacingAndGlyphs" >50:1</text>
<text x="599.46" y="345.2" font-size="14.5" text-anchor="start" fill="#000" textLength="34.11" lengthAdjust="spacingAndGlyphs" >125:1</text>
<line x1="219" x2="445.8" y1="352.3" y2="352.3" stroke="#222" stroke-width="1.1"/>
<line x1="449" x2="541.8" y1="352.3" y2="352.3" stroke="#222" stroke-width="1.1"/>
<line x1="548.8" x2="641.7" y1="352.3" y2="352.3" stroke="#222" stroke-width="1.1"/>
<text x="317.19" y="368.7" font-size="14.5" text-anchor="start" fill="#000" textLength="31.75" lengthAdjust="spacingAndGlyphs" >75µg</text>
<text x="483.84" y="368.7" font-size="14.5" text-anchor="start" fill="#000" textLength="23.65" lengthAdjust="spacingAndGlyphs" >5µg</text>
<text x="578.0" y="368.7" font-size="14.5" text-anchor="start" fill="#000" textLength="23.8" lengthAdjust="spacingAndGlyphs" >2µg</text>
<text x="338.29" y="388.1" font-size="14.5" text-anchor="start" fill="#000" textLength="119.16" lengthAdjust="spacingAndGlyphs" >Beads-to-RNA ratio</text>
<text x="0.44" y="409.4" font-size="29.6" text-anchor="start" fill="#000" font-weight="bold" textLength="16.21" lengthAdjust="spacingAndGlyphs" stroke="#000" stroke-width="0.3">B</text>
<text x="101.42" y="656.2" font-size="15" text-anchor="start" fill="#000" textLength="23.06" lengthAdjust="spacingAndGlyphs" >0.0</text>
<line x1="129" x2="672.4" y1="630.5" y2="630.5" stroke="#d8d8d8" stroke-width="1"/>
<text x="93.41" y="634.0" font-size="15" text-anchor="start" fill="#000" textLength="30.97" lengthAdjust="spacingAndGlyphs" >10.0</text>
<line x1="129" x2="672.4" y1="608.5" y2="608.5" stroke="#d8d8d8" stroke-width="1"/>
<text x="93.82" y="611.8" font-size="15" text-anchor="start" fill="#000" textLength="30.56" lengthAdjust="spacingAndGlyphs" >20.0</text>
<line x1="129" x2="672.4" y1="585.5" y2="585.5" stroke="#d8d8d8" stroke-width="1"/>
<text x="94.05" y="589.6" font-size="15" text-anchor="start" fill="#000" textLength="30.31" lengthAdjust="spacingAndGlyphs" >30.0</text>
<line x1="129" x2="672.4" y1="563.5" y2="563.5" stroke="#d8d8d8" stroke-width="1"/>
<text x="94.29" y="567.4" font-size="15" text-anchor="start" fill="#000" textLength="30.07" lengthAdjust="spacingAndGlyphs" >40.0</text>
<line x1="129" x2="672.4" y1="541.5" y2="541.5" stroke="#d8d8d8" stroke-width="1"/>
<text x="93.98" y="545.2" font-size="15" text-anchor="start" fill="#000" textLength="30.39" lengthAdjust="spacingAndGlyphs" >50.0</text>
<line x1="129" x2="672.4" y1="519.5" y2="519.5" stroke="#d8d8d8" stroke-width="1"/>
<text x="93.82" y="523.0" font-size="15" text-anchor="start" fill="#000" textLength="30.56" lengthAdjust="spacingAndGlyphs" >60.0</text>
<line x1="129" x2="672.4" y1="497.5" y2="497.5" stroke="#d8d8d8" stroke-width="1"/>
<text x="93.82" y="500.8" font-size="15" text-anchor="start" fill="#000" textLength="30.56" lengthAdjust="spacingAndGlyphs" >70.0</text>
<line x1="129" x2="672.4" y1="474.5" y2="474.5" stroke="#d8d8d8" stroke-width="1"/>
<text x="93.98" y="478.6" font-size="15" text-anchor="start" fill="#000" textLength="30.39" lengthAdjust="spacingAndGlyphs" >80.0</text>
<line x1="129" x2="672.4" y1="452.5" y2="452.5" stroke="#d8d8d8" stroke-width="1"/>
<text x="93.9" y="456.4" font-size="15" text-anchor="start" fill="#000" textLength="30.47" lengthAdjust="spacingAndGlyphs" >90.0</text>
<line x1="129" x2="672.4" y1="430.5" y2="430.5" stroke="#d8d8d8" stroke-width="1"/>
<text x="87.45" y="434.4" font-size="15" text-anchor="start" fill="#000" textLength="38.32" lengthAdjust="spacingAndGlyphs" >100.0</text>
<rect x="147.2" y="468.4" width="29.5" height="102.8" fill="#E8C020" stroke="#222" stroke-width="1.1"/>
<rect x="147.2" y="571.1" width="29.5" height="81.3" fill="#C84888" stroke="#222" stroke-width="1.1"/>
<path d="M161.9 458.1V478.9M157.9 458.1h8M157.9 478.9h8" stroke="#111" stroke-width="1.3" fill="none"/>
<path d="M161.9 566.8V576M157.9 566.8h8M157.9 576h8" stroke="#111" stroke-width="1.3" fill="none"/>
<text x="149.17" y="450.5" font-size="14.4" text-anchor="start" fill="#000" font-weight="bold" textLength="28.03" lengthAdjust="spacingAndGlyphs" >82.7</text>
<rect x="200.7" y="538.1" width="29.5" height="64.2" fill="#E8C020" stroke="#222" stroke-width="1.1"/>
<rect x="200.7" y="602.2" width="29.5" height="50.2" fill="#C84888" stroke="#222" stroke-width="1.1"/>
<path d="M215.4 531.8V543.7M211.4 531.8h8M211.4 543.7h8" stroke="#111" stroke-width="1.3" fill="none"/>
<path d="M215.4 594.4V608.8M211.4 594.4h8M211.4 608.8h8" stroke="#111" stroke-width="1.3" fill="none"/>
<text x="200.63" y="521.2" font-size="14.4" text-anchor="start" fill="#000" font-weight="bold" textLength="28.03" lengthAdjust="spacingAndGlyphs" >51.6</text>
<rect x="254.2" y="503.0" width="29.5" height="83.7" fill="#E8C020" stroke="#222" stroke-width="1.1"/>
<rect x="254.2" y="586.7" width="29.5" height="65.7" fill="#C84888" stroke="#222" stroke-width="1.1"/>
<path d="M268.9 500V505M264.9 500h8M264.9 505h8" stroke="#111" stroke-width="1.3" fill="none"/>
<path d="M268.9 577.5V595M264.9 577.5h8M264.9 595h8" stroke="#111" stroke-width="1.3" fill="none"/>
<text x="257.9" y="488.5" font-size="14.4" text-anchor="start" fill="#000" font-weight="bold" textLength="28.03" lengthAdjust="spacingAndGlyphs" >67.3</text>
<rect x="307.7" y="521.2" width="29.5" height="79.5" fill="#E8C020" stroke="#222" stroke-width="1.1"/>
<rect x="307.7" y="600.7" width="29.5" height="51.7" fill="#C84888" stroke="#222" stroke-width="1.1"/>
<path d="M322.4 503.5V538M318.4 503.5h8M318.4 538h8" stroke="#111" stroke-width="1.3" fill="none"/>
<path d="M322.4 585.5V613.5M318.4 585.5h8M318.4 613.5h8" stroke="#111" stroke-width="1.3" fill="none"/>
<text x="311.36" y="491" font-size="14.4" text-anchor="start" fill="#000" font-weight="bold" textLength="28.03" lengthAdjust="spacingAndGlyphs" >59.1</text>
<rect x="361.2" y="531.6" width="29.5" height="66.6" fill="#E8C020" stroke="#222" stroke-width="1.1"/>
<rect x="361.2" y="598.2" width="29.5" height="54.2" fill="#C84888" stroke="#222" stroke-width="1.1"/>
<path d="M375.9 529V534.5M371.9 529h8M371.9 534.5h8" stroke="#111" stroke-width="1.3" fill="none"/>
<path d="M375.9 593.5V602.5M371.9 593.5h8M371.9 602.5h8" stroke="#111" stroke-width="1.3" fill="none"/>
<text x="363.38" y="518.7" font-size="14.4" text-anchor="start" fill="#000" font-weight="bold" textLength="28.03" lengthAdjust="spacingAndGlyphs" >54.4</text>
<rect x="414.7" y="579.8" width="29.5" height="37.1" fill="#E8C020" stroke="#222" stroke-width="1.1"/>
<rect x="414.7" y="616.9" width="29.5" height="35.5" fill="#C84888" stroke="#222" stroke-width="1.1"/>
<path d="M429.4 573.5V586M425.4 573.5h8M425.4 586h8" stroke="#111" stroke-width="1.3" fill="none"/>
<path d="M429.4 611.5V621M425.4 611.5h8M425.4 621h8" stroke="#111" stroke-width="1.3" fill="none"/>
<text x="416.14" y="560.3" font-size="14.4" text-anchor="start" fill="#000" font-weight="bold" textLength="28.03" lengthAdjust="spacingAndGlyphs" >32.7</text>
<rect x="468.2" y="607.6" width="29.5" height="21.5" fill="#E8C020" stroke="#222" stroke-width="1.1"/>
<rect x="468.2" y="629.1" width="29.5" height="23.3" fill="#C84888" stroke="#222" stroke-width="1.1"/>
<path d="M482.9 601.5V613.5M478.9 601.5h8M478.9 613.5h8" stroke="#111" stroke-width="1.3" fill="none"/>
<path d="M482.9 625V633.5M478.9 625h8M478.9 633.5h8" stroke="#111" stroke-width="1.3" fill="none"/>
<text x="470.86" y="590.5" font-size="14.4" text-anchor="start" fill="#000" font-weight="bold" textLength="28.03" lengthAdjust="spacingAndGlyphs" >20.1</text>
<rect x="521.7" y="585.0" width="29.5" height="36.4" fill="#E8C020" stroke="#222" stroke-width="1.1"/>
<rect x="521.7" y="621.4" width="29.5" height="31.0" fill="#C84888" stroke="#222" stroke-width="1.1"/>
<path d="M536.4 583.1V587.1M532.4 583.1h8M532.4 587.1h8" stroke="#111" stroke-width="1.3" fill="none"/>
<path d="M536.4 620.7V622.5M532.4 620.7h8M532.4 622.5h8" stroke="#111" stroke-width="1.3" fill="none"/>
<text x="523.25" y="573.1" font-size="14.4" text-anchor="start" fill="#000" font-weight="bold" textLength="28.03" lengthAdjust="spacingAndGlyphs" >30.4</text>
<rect x="575.2" y="603.6" width="29.5" height="25.0" fill="#E8C020" stroke="#222" stroke-width="1.1"/>
<rect x="575.2" y="628.5" width="29.5" height="23.9" fill="#C84888" stroke="#222" stroke-width="1.1"/>
<path d="M589.9 602.8V605.5M585.9 602.8h8M585.9 605.5h8" stroke="#111" stroke-width="1.3" fill="none"/>
<path d="M589.9 626.5V630.2M585.9 626.5h8M585.9 630.2h8" stroke="#111" stroke-width="1.3" fill="none"/>
<text x="576.86" y="593.4" font-size="14.4" text-anchor="start" fill="#000" font-weight="bold" textLength="28.03" lengthAdjust="spacingAndGlyphs" >21.8</text>
<rect x="628.7" y="608.8" width="29.5" height="16.5" fill="#E8C020" stroke="#222" stroke-width="1.1"/>
<rect x="628.7" y="625.3" width="29.5" height="27.1" fill="#C84888" stroke="#222" stroke-width="1.1"/>
<path d="M643.4 602.3V615.2M639.4 602.3h8M639.4 615.2h8" stroke="#111" stroke-width="1.3" fill="none"/>
<path d="M643.4 615.2V637.5M639.4 615.2h8M639.4 637.5h8" stroke="#111" stroke-width="1.3" fill="none"/>
<text x="631.22" y="594.2" font-size="14.4" text-anchor="start" fill="#000" font-weight="bold" textLength="28.03" lengthAdjust="spacingAndGlyphs" >19.6</text>
<line x1="128.5" x2="673" y1="652.4" y2="652.4" stroke="#222" stroke-width="1.3"/>
<g transform="translate(84.0,636.9) rotate(-90)">
<text x="-0.91" y="0" font-size="14.5" text-anchor="start" fill="#000" textLength="193.92" lengthAdjust="spacingAndGlyphs" >rRNA content in the sample [%]</text>
</g>
<text x="144.1" y="669.3" font-size="15.6" text-anchor="start" fill="#000" textLength="31.43" lengthAdjust="spacingAndGlyphs" stroke="#000" stroke-width="0.2">Total</text>
<text x="142.57" y="686.9" font-size="15.6" text-anchor="start" fill="#000" textLength="32.45" lengthAdjust="spacingAndGlyphs" stroke="#000" stroke-width="0.2">RNA</text>
<text x="205.22" y="673.5" font-size="14.5" text-anchor="start" fill="#000" textLength="18.95" lengthAdjust="spacingAndGlyphs" >1:1</text>
<text x="263.3" y="673.5" font-size="14.5" text-anchor="start" fill="#000" textLength="18.95" lengthAdjust="spacingAndGlyphs" >3:1</text>
<text x="307.69" y="673.5" font-size="14.5" text-anchor="start" fill="#000" textLength="18.95" lengthAdjust="spacingAndGlyphs" >6:1</text>
<text x="352.45" y="673.5" font-size="14.5" text-anchor="start" fill="#000" textLength="37.9" lengthAdjust="spacingAndGlyphs" >13.3:1</text>
<text x="417.21" y="673.5" font-size="14.5" text-anchor="start" fill="#000" textLength="26.53" lengthAdjust="spacingAndGlyphs" >25:1</text>
<text x="471.28" y="673.5" font-size="14.5" text-anchor="start" fill="#000" textLength="26.53" lengthAdjust="spacingAndGlyphs" >50:1</text>
<text x="521.66" y="673.5" font-size="14.5" text-anchor="start" fill="#000" textLength="34.11" lengthAdjust="spacingAndGlyphs" >125:1</text>
<text x="582.18" y="673.5" font-size="14.5" text-anchor="start" fill="#000" textLength="26.53" lengthAdjust="spacingAndGlyphs" >50:1</text>
<text x="634.36" y="673.5" font-size="14.5" text-anchor="start" fill="#000" textLength="34.11" lengthAdjust="spacingAndGlyphs" >125:1</text>
<line x1="195.5" x2="449" y1="679.3" y2="679.3" stroke="#222" stroke-width="1.1"/>
<line x1="457" x2="565.5" y1="679.3" y2="679.3" stroke="#222" stroke-width="1.1"/>
<line x1="570.5" x2="684.5" y1="679.3" y2="679.3" stroke="#222" stroke-width="1.1"/>
<text x="306.0" y="696.4" font-size="14.5" text-anchor="start" fill="#000" textLength="31.33" lengthAdjust="spacingAndGlyphs" >75µg</text>
<text x="498.15" y="696.4" font-size="14.5" text-anchor="start" fill="#000" textLength="23.01" lengthAdjust="spacingAndGlyphs" >5µg</text>
<text x="613.88" y="696.4" font-size="14.5" text-anchor="start" fill="#000" textLength="23.01" lengthAdjust="spacingAndGlyphs" >2µg</text>
<text x="338.9" y="712.9" font-size="14.5" text-anchor="start" fill="#000" textLength="118.96" lengthAdjust="spacingAndGlyphs" >Beads-to-RNA ratio</text>
<rect x="633" y="439.2" width="9" height="8.8" fill="#E8C020"/>
<rect x="633" y="455.3" width="9" height="8.8" fill="#C84888"/>
<text x="644.89" y="447.9" font-size="12.2" text-anchor="start" fill="#000" textLength="21.75" lengthAdjust="spacingAndGlyphs" >25S</text>
<text x="645.01" y="464.1" font-size="12.2" text-anchor="start" fill="#000" textLength="21.01" lengthAdjust="spacingAndGlyphs" >18S</text>
<text x="1.04" y="745.6" font-size="30.2" text-anchor="start" fill="#000" font-weight="bold" textLength="15.55" lengthAdjust="spacingAndGlyphs" stroke="#000" stroke-width="0.9">C</text>
<text x="81.32" y="769.8" font-size="17.3" text-anchor="start" fill="#000" textLength="76.34" lengthAdjust="spacingAndGlyphs" >RNA input:</text>
<text x="70.84" y="787.8" font-size="17.3" text-anchor="start" fill="#000" textLength="87.57" lengthAdjust="spacingAndGlyphs" >Beads input:</text>
<text x="134.86" y="1026.4" font-size="16.8" text-anchor="start" fill="#000" textLength="21.38" lengthAdjust="spacingAndGlyphs" >0.0</text>
<line x1="163" x2="672" y1="983.5" y2="983.5" stroke="#d8d8d8" stroke-width="1"/>
<text x="134.62" y="989.9" font-size="16.8" text-anchor="start" fill="#000" textLength="21.62" lengthAdjust="spacingAndGlyphs" >2.0</text>
<line x1="163" x2="672" y1="947.5" y2="947.5" stroke="#d8d8d8" stroke-width="1"/>
<text x="135.1" y="953.3" font-size="16.8" text-anchor="start" fill="#000" textLength="21.14" lengthAdjust="spacingAndGlyphs" >4.0</text>
<line x1="163" x2="672" y1="910.5" y2="910.5" stroke="#d8d8d8" stroke-width="1"/>
<text x="134.62" y="916.8" font-size="16.8" text-anchor="start" fill="#000" textLength="21.62" lengthAdjust="spacingAndGlyphs" >6.0</text>
<line x1="163" x2="672" y1="874.5" y2="874.5" stroke="#d8d8d8" stroke-width="1"/>
<text x="134.78" y="880.2" font-size="16.8" text-anchor="start" fill="#000" textLength="21.46" lengthAdjust="spacingAndGlyphs" >8.0</text>
<line x1="163" x2="672" y1="837.5" y2="837.5" stroke="#d8d8d8" stroke-width="1"/>
<text x="126.04" y="843.7" font-size="16.8" text-anchor="start" fill="#000" textLength="30.23" lengthAdjust="spacingAndGlyphs" >10.0</text>
<line x1="163" x2="672" y1="801.5" y2="801.5" stroke="#d8d8d8" stroke-width="1"/>
<text x="126.04" y="807.2" font-size="16.8" text-anchor="start" fill="#000" textLength="30.23" lengthAdjust="spacingAndGlyphs" >12.0</text>
<line x1="165.1" x2="437.7" y1="772.3" y2="772.3" stroke="#222" stroke-width="1.1"/>
<line x1="445.4" x2="553.7" y1="772.3" y2="772.3" stroke="#222" stroke-width="1.1"/>
<line x1="558" x2="671.8" y1="772.3" y2="772.3" stroke="#222" stroke-width="1.1"/>
<text x="273.47" y="766" font-size="14.5" text-anchor="start" fill="#000" textLength="30.6" lengthAdjust="spacingAndGlyphs" >75µg</text>
<text x="486.75" y="766" font-size="14.5" text-anchor="start" fill="#000" textLength="23.01" lengthAdjust="spacingAndGlyphs" >5µg</text>
<text x="602.38" y="766" font-size="14.5" text-anchor="start" fill="#000" textLength="23.01" lengthAdjust="spacingAndGlyphs" >2µg</text>
<text x="176.77" y="792.8" font-size="14.5" text-anchor="start" fill="#000" textLength="30.6" lengthAdjust="spacingAndGlyphs" >75µg</text>
<line x1="169.7" x2="221.2" y1="798" y2="798" stroke="#8c8c8c" stroke-width="1.4"/>
<text x="229.69" y="792.8" font-size="14.5" text-anchor="start" fill="#000" textLength="38.18" lengthAdjust="spacingAndGlyphs" >225µg</text>
<line x1="224.7" x2="277.2" y1="798" y2="798" stroke="#8c8c8c" stroke-width="1.4"/>
<text x="280.49" y="792.8" font-size="14.5" text-anchor="start" fill="#000" textLength="38.18" lengthAdjust="spacingAndGlyphs" >450µg</text>
<line x1="280.1" x2="332.2" y1="798" y2="798" stroke="#8c8c8c" stroke-width="1.4"/>
<text x="336.23" y="792.8" font-size="14.5" text-anchor="start" fill="#000" textLength="45.76" lengthAdjust="spacingAndGlyphs" >1000µg</text>
<line x1="335.3" x2="386.5" y1="798" y2="798" stroke="#8c8c8c" stroke-width="1.4"/>
<text x="391.43" y="792.8" font-size="14.5" text-anchor="start" fill="#000" textLength="45.76" lengthAdjust="spacingAndGlyphs" >1875µg</text>
<line x1="389.6" x2="441.1" y1="798" y2="798" stroke="#8c8c8c" stroke-width="1.4"/>
<text x="449.79" y="792.8" font-size="14.5" text-anchor="start" fill="#000" textLength="38.18" lengthAdjust="spacingAndGlyphs" >250µg</text>
<line x1="444.6" x2="496.5" y1="798" y2="798" stroke="#8c8c8c" stroke-width="1.4"/>
<text x="507.69" y="792.8" font-size="14.5" text-anchor="start" fill="#000" textLength="38.18" lengthAdjust="spacingAndGlyphs" >625µg</text>
<line x1="499.7" x2="552" y1="798" y2="798" stroke="#8c8c8c" stroke-width="1.4"/>
<text x="566.92" y="792.8" font-size="14.5" text-anchor="start" fill="#000" textLength="38.18" lengthAdjust="spacingAndGlyphs" >100µg</text>
<line x1="558.7" x2="610.6" y1="798" y2="798" stroke="#8c8c8c" stroke-width="1.4"/>
<text x="627.89" y="792.8" font-size="14.5" text-anchor="start" fill="#000" textLength="38.18" lengthAdjust="spacingAndGlyphs" >250µg</text>
<line x1="618.8" x2="671.8" y1="798" y2="798" stroke="#8c8c8c" stroke-width="1.4"/>
<rect x="179.5" y="965.8" width="30.8" height="54.6" fill="#33CCCC" stroke="#222" stroke-width="1.1"/>
<path d="M194.9 962.1V969.8M190.7 962.1h8.4M190.7 969.8h8.4" stroke="#111" stroke-width="1.3" fill="none"/>
<text x="184.9" y="954.4" font-size="14.4" text-anchor="start" fill="#000" font-weight="bold" textLength="20.02" lengthAdjust="spacingAndGlyphs" >3.0</text>
<rect x="235.4" y="907.1" width="30.8" height="113.3" fill="#33CCCC" stroke="#222" stroke-width="1.1"/>
<path d="M250.8 899V914.1M246.7 899h8.4M246.7 914.1h8.4" stroke="#111" stroke-width="1.3" fill="none"/>
<text x="240.24" y="895.5" font-size="14.4" text-anchor="start" fill="#000" font-weight="bold" textLength="20.02" lengthAdjust="spacingAndGlyphs" >6.2</text>
<rect x="291.4" y="885.6" width="30.8" height="134.8" fill="#33CCCC" stroke="#222" stroke-width="1.1"/>
<path d="M306.8 839.8V930.6M302.6 839.8h8.4M302.6 930.6h8.4" stroke="#111" stroke-width="1.3" fill="none"/>
<text x="297.6" y="837.4" font-size="14.4" text-anchor="start" fill="#000" font-weight="bold" textLength="20.02" lengthAdjust="spacingAndGlyphs" >7.4</text>
<rect x="347.4" y="955.0" width="30.8" height="65.4" fill="#33CCCC" stroke="#222" stroke-width="1.1"/>
<path d="M362.8 949V962.5M358.6 949h8.4M358.6 962.5h8.4" stroke="#111" stroke-width="1.3" fill="none"/>
<text x="355.25" y="943.2" font-size="14.4" text-anchor="start" fill="#000" font-weight="bold" textLength="20.02" lengthAdjust="spacingAndGlyphs" >3.6</text>
<rect x="403.3" y="898.0" width="30.8" height="122.4" fill="#33CCCC" stroke="#222" stroke-width="1.1"/>
<path d="M418.7 891.5V905.5M414.5 891.5h8.4M414.5 905.5h8.4" stroke="#111" stroke-width="1.3" fill="none"/>
<text x="408.93" y="887" font-size="14.4" text-anchor="start" fill="#000" font-weight="bold" textLength="20.02" lengthAdjust="spacingAndGlyphs" >6.7</text>
<rect x="459.2" y="975.1" width="30.8" height="45.3" fill="#33CCCC" stroke="#222" stroke-width="1.1"/>
<path d="M474.6 958.5V993.5M470.4 958.5h8.4M470.4 993.5h8.4" stroke="#111" stroke-width="1.3" fill="none"/>
<text x="465.51" y="954" font-size="14.4" text-anchor="start" fill="#000" font-weight="bold" textLength="20.02" lengthAdjust="spacingAndGlyphs" >2.5</text>
<rect x="515.2" y="922.5" width="30.8" height="97.9" fill="#33CCCC" stroke="#222" stroke-width="1.1"/>
<path d="M530.6 906.5V939.5M526.4 906.5h8.4M526.4 939.5h8.4" stroke="#111" stroke-width="1.3" fill="none"/>
<text x="522.23" y="904.3" font-size="14.4" text-anchor="start" fill="#000" font-weight="bold" textLength="20.02" lengthAdjust="spacingAndGlyphs" >5.3</text>
<rect x="571.2" y="897.4" width="30.8" height="123.0" fill="#33CCCC" stroke="#222" stroke-width="1.1"/>
<path d="M586.6 890.5V904M582.4 890.5h8.4M582.4 904h8.4" stroke="#111" stroke-width="1.3" fill="none"/>
<text x="577.48" y="885.8" font-size="14.4" text-anchor="start" fill="#000" font-weight="bold" textLength="20.02" lengthAdjust="spacingAndGlyphs" >6.7</text>
<rect x="627.1" y="936.4" width="30.8" height="84.0" fill="#33CCCC" stroke="#222" stroke-width="1.1"/>
<path d="M642.5 912V961M638.3 912h8.4M638.3 961h8.4" stroke="#111" stroke-width="1.3" fill="none"/>
<text x="634.84" y="906.3" font-size="14.4" text-anchor="start" fill="#000" font-weight="bold" textLength="20.02" lengthAdjust="spacingAndGlyphs" >4.6</text>
<line x1="163" x2="674.5" y1="1020.4" y2="1020.4" stroke="#222" stroke-width="1.5"/>
<text x="182.62" y="1037.5" font-size="14.5" text-anchor="start" fill="#000" textLength="18.95" lengthAdjust="spacingAndGlyphs" >1:1</text>
<text x="239.0" y="1040.3" font-size="14.5" text-anchor="start" fill="#000" textLength="18.95" lengthAdjust="spacingAndGlyphs" >3:1</text>
<text x="297.19" y="1037.5" font-size="14.5" text-anchor="start" fill="#000" textLength="18.95" lengthAdjust="spacingAndGlyphs" >6:1</text>
<text x="343.25" y="1039" font-size="14.5" text-anchor="start" fill="#000" textLength="37.9" lengthAdjust="spacingAndGlyphs" >13.3:1</text>
<text x="406.91" y="1037.6" font-size="14.5" text-anchor="start" fill="#000" textLength="26.53" lengthAdjust="spacingAndGlyphs" >25:1</text>
<text x="463.18" y="1040.2" font-size="14.5" text-anchor="start" fill="#000" textLength="26.53" lengthAdjust="spacingAndGlyphs" >50:1</text>
<text x="514.06" y="1038" font-size="14.5" text-anchor="start" fill="#000" textLength="34.11" lengthAdjust="spacingAndGlyphs" >125:1</text>
<text x="571.18" y="1040.7" font-size="14.5" text-anchor="start" fill="#000" textLength="26.53" lengthAdjust="spacingAndGlyphs" >50:1</text>
<text x="625.46" y="1040" font-size="14.5" text-anchor="start" fill="#000" textLength="34.11" lengthAdjust="spacingAndGlyphs" >125:1</text>
<text x="338.19" y="1066.6" font-size="14.5" text-anchor="start" fill="#000" textLength="119.36" lengthAdjust="spacingAndGlyphs" >Beads-to-RNA ratio</text>
<g transform="translate(118.4,988.7) rotate(-90)">
<text x="0.0" y="0" font-size="15" text-anchor="start" fill="#000" textLength="80.51" lengthAdjust="spacingAndGlyphs" >Avarage RNA</text>
<text x="83.69" y="0" font-size="15" text-anchor="start" fill="#000" textLength="68.64" lengthAdjust="spacingAndGlyphs" >output [%]</text>
</g>
</svg>
</body></html>
